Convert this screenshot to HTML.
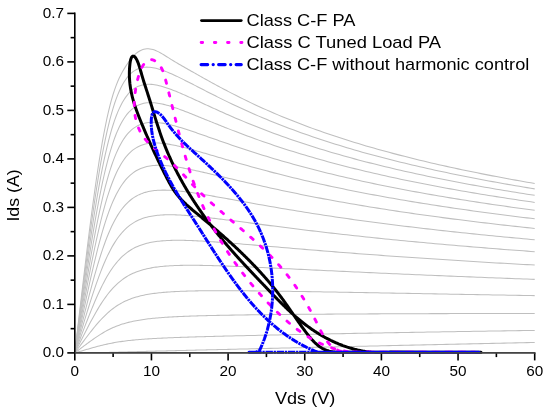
<!DOCTYPE html>
<html><head><meta charset="utf-8"><style>
html,body{margin:0;padding:0;background:#fff;}
body{width:550px;height:414px;overflow:hidden;}
svg{display:block;font-family:"Liberation Sans",Arial,sans-serif;}
</style></head><body>
<svg width="550" height="414" viewBox="0 0 550 414">
<rect width="550" height="414" fill="#fff"/>
<g fill="none" stroke="#bfbfbf" stroke-width="1.05">
<polyline points="74.80,352.90 75.57,346.35 76.33,339.81 77.10,333.26 77.87,326.72 78.63,320.19 79.40,313.66 80.17,307.14 80.93,300.63 81.70,294.14 82.47,287.68 83.23,281.23 84.00,274.82 84.76,268.44 85.53,262.09 86.30,255.79 87.06,249.54 87.83,243.34 88.60,237.20 89.36,231.12 90.13,225.10 91.66,213.30 93.20,201.83 94.73,190.72 96.26,180.01 97.80,169.73 99.33,159.90 100.86,150.56 102.39,141.70 103.93,133.36 105.46,125.53 106.99,118.22 108.53,111.45 110.06,105.20 111.59,99.48 113.12,94.27 114.66,89.56 116.19,85.32 117.72,81.50 119.26,78.06 120.79,74.93 122.32,72.06 123.86,69.39 125.39,66.87 126.92,64.50 128.45,62.25 129.99,60.15 131.52,58.20 133.05,56.42 134.59,54.83 136.12,53.44 137.65,52.24 139.19,51.24 140.72,50.43 142.25,49.78 143.78,49.30 145.32,48.98 146.85,48.81 148.38,48.79 149.92,48.91 151.45,49.16 152.98,49.55 154.52,50.05 156.05,50.65 157.58,51.35 159.12,52.13 160.65,52.97 162.18,53.87 163.71,54.80 165.25,55.75 166.78,56.71 168.31,57.67 169.85,58.64 171.38,59.59 172.91,60.53 174.44,61.46 175.98,62.38 177.51,63.29 179.04,64.18 180.58,65.07 182.11,65.95 183.64,66.83 185.18,67.70 186.71,68.57 188.24,69.44 189.77,70.31 191.31,71.18 192.84,72.04 194.37,72.91 195.91,73.77 197.44,74.64 198.97,75.50 200.51,76.37 202.04,77.23 203.57,78.09 205.11,78.94 206.64,79.80 208.17,80.65 209.70,81.50 211.24,82.34 212.77,83.19 214.30,84.02 215.84,84.86 217.37,85.69 218.90,86.52 220.44,87.34 221.97,88.16 223.50,88.98 225.03,89.79 226.57,90.59 228.10,91.39 231.93,93.38 235.76,95.33 239.60,97.25 243.43,99.15 247.26,101.01 251.09,102.85 254.93,104.65 258.76,106.42 262.59,108.17 266.43,109.88 270.26,111.57 274.09,113.23 277.92,114.86 281.75,116.46 285.59,118.03 289.42,119.59 293.25,121.11 297.08,122.61 300.92,124.08 304.75,125.53 308.58,126.96 312.42,128.37 316.25,129.75 320.08,131.11 323.91,132.45 327.75,133.76 331.58,135.06 335.41,136.34 339.24,137.59 343.07,138.83 346.91,140.05 350.74,141.25 354.57,142.44 358.41,143.60 362.24,144.75 366.07,145.88 369.90,147.00 373.74,148.10 377.57,149.18 381.40,150.25 385.23,151.30 389.06,152.34 392.90,153.37 396.73,154.38 400.56,155.38 404.40,156.36 408.23,157.33 412.06,158.29 415.89,159.24 419.73,160.17 423.56,161.09 427.39,162.00 431.22,162.90 435.06,163.78 438.89,164.66 442.72,165.52 446.55,166.38 450.38,167.22 454.22,168.05 458.05,168.88 461.88,169.69 465.72,170.49 469.55,171.29 473.38,172.07 477.21,172.85 481.05,173.61 484.88,174.37 488.71,175.12 492.54,175.86 496.38,176.59 500.21,177.32 504.04,178.03 507.87,178.74 511.71,179.44 515.54,180.13 519.37,180.82 523.20,181.50 527.03,182.17 530.87,182.83 534.70,183.49"/>
<polyline points="74.80,352.90 75.57,346.76 76.33,340.61 77.10,334.47 77.87,328.33 78.63,322.19 79.40,316.06 80.17,309.94 80.93,303.83 81.70,297.74 82.47,291.67 83.23,285.61 84.00,279.59 84.76,273.59 85.53,267.63 86.30,261.71 87.06,255.83 87.83,250.00 88.60,244.22 89.36,238.50 90.13,232.84 91.66,221.72 93.20,210.90 94.73,200.42 96.26,190.31 97.80,180.59 99.33,171.28 100.86,162.42 102.39,154.00 103.93,146.05 105.46,138.57 106.99,131.56 108.53,125.01 110.06,118.92 111.59,113.27 113.12,108.07 114.66,103.28 116.19,98.89 117.72,94.89 119.26,91.26 120.79,87.96 122.32,84.99 123.86,82.33 125.39,79.95 126.92,77.83 128.45,75.96 129.99,74.32 131.52,72.89 133.05,71.65 134.59,70.60 136.12,69.71 137.65,68.97 139.19,68.37 140.72,67.91 142.25,67.56 143.78,67.32 145.32,67.18 146.85,67.12 148.38,67.16 149.92,67.26 151.45,67.44 152.98,67.68 154.52,67.97 156.05,68.32 157.58,68.72 159.12,69.16 160.65,69.64 162.18,70.15 163.71,70.70 165.25,71.27 166.78,71.88 168.31,72.50 169.85,73.15 171.38,73.82 172.91,74.50 174.44,75.20 175.98,75.91 177.51,76.64 179.04,77.38 180.58,78.12 182.11,78.88 183.64,79.64 185.18,80.41 186.71,81.18 188.24,81.96 189.77,82.74 191.31,83.52 192.84,84.31 194.37,85.10 195.91,85.89 197.44,86.68 198.97,87.47 200.51,88.26 202.04,89.05 203.57,89.84 205.11,90.63 206.64,91.41 208.17,92.20 209.70,92.98 211.24,93.76 212.77,94.53 214.30,95.31 215.84,96.08 217.37,96.85 218.90,97.61 220.44,98.37 221.97,99.13 223.50,99.89 225.03,100.64 226.57,101.38 228.10,102.13 231.93,103.97 235.76,105.78 239.60,107.57 243.43,109.33 247.26,111.07 251.09,112.78 254.93,114.46 258.76,116.11 262.59,117.74 266.43,119.34 270.26,120.92 274.09,122.47 277.92,124.00 281.75,125.50 285.59,126.98 289.42,128.43 293.25,129.86 297.08,131.27 300.92,132.66 304.75,134.02 308.58,135.36 312.42,136.68 316.25,137.98 320.08,139.26 323.91,140.52 327.75,141.76 331.58,142.98 335.41,144.19 339.24,145.37 343.07,146.54 346.91,147.69 350.74,148.82 354.57,149.94 358.41,151.04 362.24,152.13 366.07,153.20 369.90,154.25 373.74,155.29 377.57,156.32 381.40,157.33 385.23,158.32 389.06,159.31 392.90,160.28 396.73,161.24 400.56,162.18 404.40,163.11 408.23,164.03 412.06,164.94 415.89,165.84 419.73,166.72 423.56,167.60 427.39,168.46 431.22,169.31 435.06,170.15 438.89,170.98 442.72,171.80 446.55,172.61 450.38,173.41 454.22,174.20 458.05,174.99 461.88,175.76 465.72,176.52 469.55,177.28 473.38,178.02 477.21,178.76 481.05,179.49 484.88,180.21 488.71,180.92 492.54,181.63 496.38,182.32 500.21,183.01 504.04,183.70 507.87,184.37 511.71,185.04 515.54,185.70 519.37,186.35 523.20,187.00 527.03,187.63 530.87,188.27 534.70,188.89"/>
<polyline points="74.80,352.90 75.57,347.21 76.33,341.53 77.10,335.84 77.87,330.16 78.63,324.48 79.40,318.80 80.17,313.13 80.93,307.48 81.70,301.84 82.47,296.21 83.23,290.60 84.00,285.02 84.76,279.47 85.53,273.94 86.30,268.45 87.06,263.00 87.83,257.59 88.60,252.23 89.36,246.92 90.13,241.66 91.66,231.33 93.20,221.27 94.73,211.51 96.26,202.08 97.80,193.01 99.33,184.32 100.86,176.02 102.39,168.13 103.93,160.66 105.46,153.62 106.99,147.01 108.53,140.82 110.06,135.06 111.59,129.70 113.12,124.75 114.66,120.18 116.19,115.99 117.72,112.15 119.26,108.64 120.79,105.46 122.32,102.58 123.86,99.98 125.39,97.65 126.92,95.57 128.45,93.71 129.99,92.08 131.52,90.64 133.05,89.38 134.59,88.30 136.12,87.37 137.65,86.58 139.19,85.93 140.72,85.41 142.25,84.99 143.78,84.68 145.32,84.46 146.85,84.33 148.38,84.28 149.92,84.30 151.45,84.39 152.98,84.54 154.52,84.75 156.05,85.01 157.58,85.31 159.12,85.65 160.65,86.04 162.18,86.46 163.71,86.91 165.25,87.39 166.78,87.89 168.31,88.42 169.85,88.98 171.38,89.55 172.91,90.14 174.44,90.74 175.98,91.36 177.51,91.99 179.04,92.64 180.58,93.29 182.11,93.95 183.64,94.62 185.18,95.30 186.71,95.98 188.24,96.67 189.77,97.37 191.31,98.06 192.84,98.76 194.37,99.47 195.91,100.17 197.44,100.88 198.97,101.59 200.51,102.30 202.04,103.00 203.57,103.71 205.11,104.42 206.64,105.13 208.17,105.83 209.70,106.54 211.24,107.24 212.77,107.94 214.30,108.64 215.84,109.34 217.37,110.03 218.90,110.73 220.44,111.42 221.97,112.10 223.50,112.79 225.03,113.47 226.57,114.15 228.10,114.82 231.93,116.50 235.76,118.15 239.60,119.78 243.43,121.39 247.26,122.98 251.09,124.54 254.93,126.08 258.76,127.60 262.59,129.09 266.43,130.56 270.26,132.01 274.09,133.44 277.92,134.85 281.75,136.23 285.59,137.59 289.42,138.93 293.25,140.25 297.08,141.55 300.92,142.83 304.75,144.09 308.58,145.33 312.42,146.56 316.25,147.76 320.08,148.95 323.91,150.11 327.75,151.27 331.58,152.40 335.41,153.52 339.24,154.62 343.07,155.70 346.91,156.77 350.74,157.83 354.57,158.87 358.41,159.89 362.24,160.90 366.07,161.90 369.90,162.88 373.74,163.85 377.57,164.80 381.40,165.75 385.23,166.68 389.06,167.59 392.90,168.50 396.73,169.39 400.56,170.28 404.40,171.15 408.23,172.01 412.06,172.86 415.89,173.69 419.73,174.52 423.56,175.34 427.39,176.15 431.22,176.94 435.06,177.73 438.89,178.51 442.72,179.28 446.55,180.04 450.38,180.79 454.22,181.53 458.05,182.26 461.88,182.99 465.72,183.70 469.55,184.41 473.38,185.11 477.21,185.80 481.05,186.49 484.88,187.17 488.71,187.84 492.54,188.50 496.38,189.15 500.21,189.80 504.04,190.44 507.87,191.07 511.71,191.70 515.54,192.32 519.37,192.94 523.20,193.54 527.03,194.15 530.87,194.74 534.70,195.33"/>
<polyline points="74.80,352.90 75.57,347.69 76.33,342.48 77.10,337.27 77.87,332.06 78.63,326.85 79.40,321.65 80.17,316.46 80.93,311.27 81.70,306.10 82.47,300.94 83.23,295.80 84.00,290.68 84.76,285.59 85.53,280.52 86.30,275.48 87.06,270.47 87.83,265.51 88.60,260.58 89.36,255.70 90.13,250.87 91.66,241.36 93.20,232.10 94.73,223.11 96.26,214.40 97.80,206.02 99.33,197.97 100.86,190.28 102.39,182.96 103.93,176.01 105.46,169.45 106.99,163.27 108.53,157.48 110.06,152.07 111.59,147.04 113.12,142.37 114.66,138.05 116.19,134.07 117.72,130.42 119.26,127.08 120.79,124.03 122.32,121.25 123.86,118.74 125.39,116.48 126.92,114.44 128.45,112.62 129.99,111.00 131.52,109.57 133.05,108.30 134.59,107.20 136.12,106.24 137.65,105.42 139.19,104.72 140.72,104.14 142.25,103.66 143.78,103.29 145.32,103.00 146.85,102.79 148.38,102.66 149.92,102.60 151.45,102.61 152.98,102.67 154.52,102.79 156.05,102.95 157.58,103.16 159.12,103.41 160.65,103.70 162.18,104.02 163.71,104.38 165.25,104.76 166.78,105.17 168.31,105.60 169.85,106.05 171.38,106.53 172.91,107.02 174.44,107.53 175.98,108.05 177.51,108.58 179.04,109.13 180.58,109.69 182.11,110.26 183.64,110.83 185.18,111.42 186.71,112.01 188.24,112.61 189.77,113.21 191.31,113.81 192.84,114.42 194.37,115.04 195.91,115.65 197.44,116.27 198.97,116.89 200.51,117.52 202.04,118.14 203.57,118.76 205.11,119.39 206.64,120.01 208.17,120.63 209.70,121.26 211.24,121.88 212.77,122.50 214.30,123.12 215.84,123.74 217.37,124.36 218.90,124.98 220.44,125.59 221.97,126.20 223.50,126.81 225.03,127.42 226.57,128.03 228.10,128.63 231.93,130.13 235.76,131.61 239.60,133.08 243.43,134.52 247.26,135.95 251.09,137.36 254.93,138.75 258.76,140.12 262.59,141.47 266.43,142.80 270.26,144.12 274.09,145.41 277.92,146.69 281.75,147.94 285.59,149.18 289.42,150.40 293.25,151.60 297.08,152.79 300.92,153.95 304.75,155.10 308.58,156.24 312.42,157.35 316.25,158.45 320.08,159.54 323.91,160.61 327.75,161.66 331.58,162.70 335.41,163.72 339.24,164.73 343.07,165.73 346.91,166.71 350.74,167.68 354.57,168.63 358.41,169.58 362.24,170.50 366.07,171.42 369.90,172.33 373.74,173.22 377.57,174.10 381.40,174.97 385.23,175.83 389.06,176.67 392.90,177.51 396.73,178.33 400.56,179.15 404.40,179.95 408.23,180.75 412.06,181.53 415.89,182.31 419.73,183.07 423.56,183.83 427.39,184.58 431.22,185.31 435.06,186.04 438.89,186.76 442.72,187.48 446.55,188.18 450.38,188.88 454.22,189.56 458.05,190.24 461.88,190.92 465.72,191.58 469.55,192.24 473.38,192.89 477.21,193.53 481.05,194.17 484.88,194.80 488.71,195.42 492.54,196.03 496.38,196.64 500.21,197.25 504.04,197.84 507.87,198.43 511.71,199.02 515.54,199.59 519.37,200.17 523.20,200.73 527.03,201.29 530.87,201.85 534.70,202.40"/>
<polyline points="74.80,352.90 75.57,348.19 76.33,343.48 77.10,338.76 77.87,334.05 78.63,329.35 79.40,324.64 80.17,319.95 80.93,315.26 81.70,310.58 82.47,305.91 83.23,301.26 84.00,296.62 84.76,292.01 85.53,287.42 86.30,282.86 87.06,278.32 87.83,273.82 88.60,269.35 89.36,264.93 90.13,260.54 91.66,251.92 93.20,243.50 94.73,235.31 96.26,227.38 97.80,219.73 99.33,212.38 100.86,205.34 102.39,198.63 103.93,192.25 105.46,186.21 106.99,180.52 108.53,175.16 110.06,170.15 111.59,165.47 113.12,161.12 114.66,157.09 116.19,153.36 117.72,149.92 119.26,146.77 120.79,143.88 122.32,141.24 123.86,138.84 125.39,136.67 126.92,134.70 128.45,132.93 129.99,131.35 131.52,129.93 133.05,128.67 134.59,127.56 136.12,126.58 137.65,125.73 139.19,125.00 140.72,124.37 142.25,123.84 143.78,123.41 145.32,123.05 146.85,122.78 148.38,122.57 149.92,122.44 151.45,122.36 152.98,122.34 154.52,122.36 156.05,122.44 157.58,122.56 159.12,122.71 160.65,122.91 162.18,123.13 163.71,123.39 165.25,123.67 166.78,123.98 168.31,124.32 169.85,124.67 171.38,125.05 172.91,125.44 174.44,125.85 175.98,126.27 177.51,126.70 179.04,127.15 180.58,127.61 182.11,128.08 183.64,128.56 185.18,129.05 186.71,129.54 188.24,130.04 189.77,130.55 191.31,131.06 192.84,131.58 194.37,132.10 195.91,132.62 197.44,133.15 198.97,133.68 200.51,134.21 202.04,134.74 203.57,135.28 205.11,135.81 206.64,136.35 208.17,136.89 209.70,137.42 211.24,137.96 212.77,138.50 214.30,139.04 215.84,139.57 217.37,140.11 218.90,140.65 220.44,141.18 221.97,141.71 223.50,142.24 225.03,142.77 226.57,143.30 228.10,143.83 231.93,145.14 235.76,146.44 239.60,147.73 243.43,149.00 247.26,150.26 251.09,151.50 254.93,152.73 258.76,153.94 262.59,155.14 266.43,156.32 270.26,157.48 274.09,158.64 277.92,159.77 281.75,160.89 285.59,161.99 289.42,163.08 293.25,164.16 297.08,165.22 300.92,166.26 304.75,167.29 308.58,168.31 312.42,169.31 316.25,170.30 320.08,171.27 323.91,172.23 327.75,173.18 331.58,174.11 335.41,175.04 339.24,175.95 343.07,176.85 346.91,177.73 350.74,178.61 354.57,179.47 358.41,180.32 362.24,181.16 366.07,181.99 369.90,182.81 373.74,183.62 377.57,184.42 381.40,185.20 385.23,185.98 389.06,186.75 392.90,187.51 396.73,188.26 400.56,189.00 404.40,189.73 408.23,190.46 412.06,191.17 415.89,191.88 419.73,192.57 423.56,193.26 427.39,193.94 431.22,194.62 435.06,195.28 438.89,195.94 442.72,196.59 446.55,197.23 450.38,197.87 454.22,198.50 458.05,199.12 461.88,199.73 465.72,200.34 469.55,200.94 473.38,201.54 477.21,202.13 481.05,202.71 484.88,203.29 488.71,203.86 492.54,204.42 496.38,204.98 500.21,205.53 504.04,206.08 507.87,206.62 511.71,207.15 515.54,207.69 519.37,208.21 523.20,208.73 527.03,209.24 530.87,209.75 534.70,210.26"/>
<polyline points="74.80,352.90 75.57,348.69 76.33,344.49 77.10,340.28 77.87,336.08 78.63,331.88 79.40,327.68 80.17,323.49 80.93,319.30 81.70,315.12 82.47,310.96 83.23,306.80 84.00,302.66 84.76,298.54 85.53,294.44 86.30,290.36 87.06,286.30 87.83,282.27 88.60,278.28 89.36,274.32 90.13,270.39 91.66,262.66 93.20,255.11 94.73,247.76 96.26,240.63 97.80,233.74 99.33,227.11 100.86,220.75 102.39,214.68 103.93,208.89 105.46,203.41 106.99,198.22 108.53,193.34 110.06,188.75 111.59,184.46 113.12,180.46 114.66,176.74 116.19,173.29 117.72,170.10 119.26,167.16 120.79,164.46 122.32,161.98 123.86,159.72 125.39,157.65 126.92,155.78 128.45,154.08 129.99,152.55 131.52,151.17 133.05,149.93 134.59,148.83 136.12,147.85 137.65,146.99 139.19,146.23 140.72,145.57 142.25,145.00 143.78,144.52 145.32,144.11 146.85,143.78 148.38,143.51 149.92,143.30 151.45,143.15 152.98,143.05 154.52,143.00 156.05,142.99 157.58,143.02 159.12,143.09 160.65,143.19 162.18,143.32 163.71,143.49 165.25,143.68 166.78,143.89 168.31,144.13 169.85,144.39 171.38,144.66 172.91,144.96 174.44,145.27 175.98,145.59 177.51,145.93 179.04,146.28 180.58,146.64 182.11,147.02 183.64,147.40 185.18,147.79 186.71,148.18 188.24,148.59 189.77,149.00 191.31,149.42 192.84,149.84 194.37,150.26 195.91,150.69 197.44,151.13 198.97,151.57 200.51,152.01 202.04,152.45 203.57,152.89 205.11,153.34 206.64,153.79 208.17,154.24 209.70,154.69 211.24,155.14 212.77,155.59 214.30,156.05 215.84,156.50 217.37,156.95 218.90,157.40 220.44,157.86 221.97,158.31 223.50,158.76 225.03,159.21 226.57,159.66 228.10,160.11 231.93,161.23 235.76,162.34 239.60,163.44 243.43,164.53 247.26,165.61 251.09,166.68 254.93,167.74 258.76,168.79 262.59,169.83 266.43,170.85 270.26,171.87 274.09,172.87 277.92,173.85 281.75,174.83 285.59,175.79 289.42,176.75 293.25,177.69 297.08,178.61 300.92,179.53 304.75,180.43 308.58,181.33 312.42,182.21 316.25,183.08 320.08,183.93 323.91,184.78 327.75,185.62 331.58,186.44 335.41,187.26 339.24,188.06 343.07,188.86 346.91,189.64 350.74,190.42 354.57,191.18 358.41,191.94 362.24,192.69 366.07,193.42 369.90,194.15 373.74,194.87 377.57,195.58 381.40,196.28 385.23,196.98 389.06,197.66 392.90,198.34 396.73,199.01 400.56,199.67 404.40,200.32 408.23,200.97 412.06,201.61 415.89,202.24 419.73,202.87 423.56,203.48 427.39,204.09 431.22,204.70 435.06,205.29 438.89,205.88 442.72,206.47 446.55,207.05 450.38,207.62 454.22,208.18 458.05,208.74 461.88,209.29 465.72,209.84 469.55,210.38 473.38,210.92 477.21,211.45 481.05,211.97 484.88,212.49 488.71,213.01 492.54,213.52 496.38,214.02 500.21,214.52 504.04,215.01 507.87,215.50 511.71,215.99 515.54,216.47 519.37,216.94 523.20,217.41 527.03,217.88 530.87,218.34 534.70,218.80"/>
<polyline points="74.80,352.90 75.57,349.23 76.33,345.55 77.10,341.88 77.87,338.20 78.63,334.53 79.40,330.86 80.17,327.20 80.93,323.54 81.70,319.89 82.47,316.24 83.23,312.61 84.00,308.99 84.76,305.38 85.53,301.79 86.30,298.22 87.06,294.67 87.83,291.14 88.60,287.64 89.36,284.17 90.13,280.72 91.66,273.94 93.20,267.30 94.73,260.84 96.26,254.56 97.80,248.49 99.33,242.63 100.86,237.01 102.39,231.62 103.93,226.49 105.46,221.61 106.99,216.98 108.53,212.61 110.06,208.50 111.59,204.65 113.12,201.04 114.66,197.67 116.19,194.54 117.72,191.64 119.26,188.95 120.79,186.47 122.32,184.19 123.86,182.09 125.39,180.17 126.92,178.42 128.45,176.82 129.99,175.36 131.52,174.05 133.05,172.86 134.59,171.79 136.12,170.82 137.65,169.97 139.19,169.20 140.72,168.53 142.25,167.93 143.78,167.41 145.32,166.96 146.85,166.58 148.38,166.26 149.92,165.99 151.45,165.77 152.98,165.60 154.52,165.47 156.05,165.39 157.58,165.34 159.12,165.32 160.65,165.34 162.18,165.39 163.71,165.46 165.25,165.56 166.78,165.68 168.31,165.83 169.85,165.99 171.38,166.17 172.91,166.37 174.44,166.58 175.98,166.81 177.51,167.05 179.04,167.30 180.58,167.57 182.11,167.84 183.64,168.12 185.18,168.41 186.71,168.71 188.24,169.02 189.77,169.33 191.31,169.65 192.84,169.98 194.37,170.31 195.91,170.64 197.44,170.98 198.97,171.32 200.51,171.67 202.04,172.02 203.57,172.37 205.11,172.73 206.64,173.08 208.17,173.44 209.70,173.80 211.24,174.16 212.77,174.53 214.30,174.89 215.84,175.25 217.37,175.62 218.90,175.99 220.44,176.35 221.97,176.72 223.50,177.08 225.03,177.45 226.57,177.82 228.10,178.18 231.93,179.10 235.76,180.01 239.60,180.92 243.43,181.82 247.26,182.71 251.09,183.60 254.93,184.48 258.76,185.35 262.59,186.22 266.43,187.08 270.26,187.93 274.09,188.76 277.92,189.60 281.75,190.42 285.59,191.23 289.42,192.03 293.25,192.83 297.08,193.61 300.92,194.39 304.75,195.16 308.58,195.91 312.42,196.66 316.25,197.40 320.08,198.14 323.91,198.86 327.75,199.58 331.58,200.28 335.41,200.98 339.24,201.67 343.07,202.35 346.91,203.03 350.74,203.69 354.57,204.35 358.41,205.00 362.24,205.64 366.07,206.28 369.90,206.91 373.74,207.53 377.57,208.14 381.40,208.75 385.23,209.35 389.06,209.95 392.90,210.53 396.73,211.11 400.56,211.69 404.40,212.26 408.23,212.82 412.06,213.37 415.89,213.92 419.73,214.47 423.56,215.00 427.39,215.54 431.22,216.06 435.06,216.58 438.89,217.10 442.72,217.61 446.55,218.11 450.38,218.61 454.22,219.11 458.05,219.60 461.88,220.08 465.72,220.56 469.55,221.04 473.38,221.51 477.21,221.97 481.05,222.43 484.88,222.89 488.71,223.34 492.54,223.79 496.38,224.23 500.21,224.67 504.04,225.11 507.87,225.54 511.71,225.97 515.54,226.39 519.37,226.81 523.20,227.22 527.03,227.63 530.87,228.04 534.70,228.44"/>
<polyline points="74.80,352.90 75.57,349.79 76.33,346.69 77.10,343.58 77.87,340.47 78.63,337.37 79.40,334.27 80.17,331.17 80.93,328.07 81.70,324.98 82.47,321.90 83.23,318.82 84.00,315.76 84.76,312.70 85.53,309.66 86.30,306.64 87.06,303.63 87.83,300.64 88.60,297.67 89.36,294.72 90.13,291.80 91.66,286.04 93.20,280.40 94.73,274.90 96.26,269.54 97.80,264.36 99.33,259.35 100.86,254.53 102.39,249.91 103.93,245.49 105.46,241.28 106.99,237.29 108.53,233.50 110.06,229.93 111.59,226.57 113.12,223.42 114.66,220.47 116.19,217.71 117.72,215.15 119.26,212.76 120.79,210.56 122.32,208.51 123.86,206.63 125.39,204.89 126.92,203.30 128.45,201.83 129.99,200.49 131.52,199.27 133.05,198.16 134.59,197.15 136.12,196.23 137.65,195.40 139.19,194.65 140.72,193.98 142.25,193.38 143.78,192.85 145.32,192.37 146.85,191.96 148.38,191.59 149.92,191.28 151.45,191.01 152.98,190.78 154.52,190.59 156.05,190.44 157.58,190.32 159.12,190.23 160.65,190.17 162.18,190.13 163.71,190.12 165.25,190.13 166.78,190.17 168.31,190.22 169.85,190.29 171.38,190.38 172.91,190.48 174.44,190.60 175.98,190.73 177.51,190.88 179.04,191.03 180.58,191.20 182.11,191.37 183.64,191.56 185.18,191.75 186.71,191.95 188.24,192.16 189.77,192.37 191.31,192.59 192.84,192.82 194.37,193.05 195.91,193.29 197.44,193.53 198.97,193.77 200.51,194.02 202.04,194.27 203.57,194.53 205.11,194.79 206.64,195.05 208.17,195.31 209.70,195.57 211.24,195.84 212.77,196.11 214.30,196.38 215.84,196.65 217.37,196.93 218.90,197.20 220.44,197.48 221.97,197.75 223.50,198.03 225.03,198.31 226.57,198.59 228.10,198.86 231.93,199.56 235.76,200.26 239.60,200.96 243.43,201.65 247.26,202.35 251.09,203.04 254.93,203.73 258.76,204.41 262.59,205.09 266.43,205.76 270.26,206.43 274.09,207.09 277.92,207.75 281.75,208.40 285.59,209.05 289.42,209.69 293.25,210.33 297.08,210.95 300.92,211.58 304.75,212.19 308.58,212.80 312.42,213.41 316.25,214.00 320.08,214.60 323.91,215.18 327.75,215.76 331.58,216.33 335.41,216.90 339.24,217.46 343.07,218.02 346.91,218.57 350.74,219.11 354.57,219.65 358.41,220.18 362.24,220.71 366.07,221.23 369.90,221.75 373.74,222.26 377.57,222.76 381.40,223.27 385.23,223.76 389.06,224.25 392.90,224.74 396.73,225.22 400.56,225.69 404.40,226.16 408.23,226.63 412.06,227.09 415.89,227.55 419.73,228.00 423.56,228.45 427.39,228.89 431.22,229.33 435.06,229.76 438.89,230.19 442.72,230.62 446.55,231.04 450.38,231.46 454.22,231.87 458.05,232.28 461.88,232.69 465.72,233.09 469.55,233.49 473.38,233.88 477.21,234.28 481.05,234.66 484.88,235.05 488.71,235.43 492.54,235.81 496.38,236.18 500.21,236.55 504.04,236.92 507.87,237.28 511.71,237.64 515.54,238.00 519.37,238.35 523.20,238.70 527.03,239.05 530.87,239.40 534.70,239.74"/>
<polyline points="74.80,352.90 75.57,350.34 76.33,347.77 77.10,345.21 77.87,342.64 78.63,340.08 79.40,337.51 80.17,334.95 80.93,332.40 81.70,329.84 82.47,327.30 83.23,324.76 84.00,322.22 84.76,319.70 85.53,317.18 86.30,314.68 87.06,312.19 87.83,309.72 88.60,307.26 89.36,304.82 90.13,302.40 91.66,297.62 93.20,292.93 94.73,288.36 96.26,283.91 97.80,279.59 99.33,275.41 100.86,271.38 102.39,267.51 103.93,263.80 105.46,260.26 106.99,256.89 108.53,253.70 110.06,250.67 111.59,247.82 113.12,245.13 114.66,242.61 116.19,240.24 117.72,238.04 119.26,235.98 120.79,234.06 122.32,232.28 123.86,230.63 125.39,229.11 126.92,227.69 128.45,226.39 129.99,225.19 131.52,224.09 133.05,223.08 134.59,222.16 136.12,221.31 137.65,220.54 139.19,219.83 140.72,219.19 142.25,218.61 143.78,218.09 145.32,217.61 146.85,217.19 148.38,216.81 149.92,216.47 151.45,216.17 152.98,215.91 154.52,215.67 156.05,215.47 157.58,215.30 159.12,215.16 160.65,215.04 162.18,214.94 163.71,214.87 165.25,214.81 166.78,214.77 168.31,214.75 169.85,214.75 171.38,214.76 172.91,214.79 174.44,214.83 175.98,214.88 177.51,214.94 179.04,215.01 180.58,215.09 182.11,215.18 183.64,215.28 185.18,215.39 186.71,215.50 188.24,215.62 189.77,215.75 191.31,215.88 192.84,216.02 194.37,216.17 195.91,216.32 197.44,216.47 198.97,216.63 200.51,216.79 202.04,216.95 203.57,217.12 205.11,217.29 206.64,217.46 208.17,217.64 209.70,217.82 211.24,218.00 212.77,218.18 214.30,218.37 215.84,218.56 217.37,218.75 218.90,218.94 220.44,219.13 221.97,219.32 223.50,219.51 225.03,219.71 226.57,219.90 228.10,220.10 231.93,220.60 235.76,221.10 239.60,221.60 243.43,222.10 247.26,222.60 251.09,223.11 254.93,223.61 258.76,224.11 262.59,224.61 266.43,225.11 270.26,225.61 274.09,226.10 277.92,226.59 281.75,227.08 285.59,227.57 289.42,228.05 293.25,228.53 297.08,229.00 300.92,229.48 304.75,229.94 308.58,230.41 312.42,230.87 316.25,231.33 320.08,231.78 323.91,232.23 327.75,232.67 331.58,233.11 335.41,233.55 339.24,233.99 343.07,234.42 346.91,234.84 350.74,235.27 354.57,235.68 358.41,236.10 362.24,236.51 366.07,236.92 369.90,237.32 373.74,237.72 377.57,238.12 381.40,238.51 385.23,238.90 389.06,239.28 392.90,239.67 396.73,240.05 400.56,240.42 404.40,240.79 408.23,241.16 412.06,241.53 415.89,241.89 419.73,242.25 423.56,242.60 427.39,242.96 431.22,243.31 435.06,243.65 438.89,244.00 442.72,244.34 446.55,244.67 450.38,245.01 454.22,245.34 458.05,245.67 461.88,246.00 465.72,246.32 469.55,246.64 473.38,246.96 477.21,247.27 481.05,247.58 484.88,247.89 488.71,248.20 492.54,248.51 496.38,248.81 500.21,249.11 504.04,249.40 507.87,249.70 511.71,249.99 515.54,250.28 519.37,250.57 523.20,250.85 527.03,251.14 530.87,251.42 534.70,251.70"/>
<polyline points="74.80,352.90 75.57,350.87 76.33,348.85 77.10,346.82 77.87,344.79 78.63,342.77 79.40,340.74 80.17,338.72 80.93,336.70 81.70,334.68 82.47,332.67 83.23,330.66 84.00,328.65 84.76,326.66 85.53,324.67 86.30,322.68 87.06,320.71 87.83,318.75 88.60,316.80 89.36,314.87 90.13,312.95 91.66,309.16 93.20,305.44 94.73,301.80 96.26,298.25 97.80,294.81 99.33,291.47 100.86,288.25 102.39,285.14 103.93,282.17 105.46,279.32 106.99,276.60 108.53,274.02 110.06,271.57 111.59,269.24 113.12,267.05 114.66,264.99 116.19,263.05 117.72,261.24 119.26,259.54 120.79,257.95 122.32,256.46 123.86,255.08 125.39,253.80 126.92,252.60 128.45,251.50 129.99,250.47 131.52,249.52 133.05,248.65 134.59,247.84 136.12,247.09 137.65,246.40 139.19,245.77 140.72,245.19 142.25,244.66 143.78,244.17 145.32,243.73 146.85,243.32 148.38,242.95 149.92,242.61 151.45,242.30 152.98,242.03 154.52,241.78 156.05,241.55 157.58,241.35 159.12,241.17 160.65,241.01 162.18,240.88 163.71,240.75 165.25,240.65 166.78,240.56 168.31,240.49 169.85,240.42 171.38,240.38 172.91,240.34 174.44,240.31 175.98,240.30 177.51,240.29 179.04,240.29 180.58,240.31 182.11,240.32 183.64,240.35 185.18,240.39 186.71,240.43 188.24,240.47 189.77,240.52 191.31,240.58 192.84,240.64 194.37,240.71 195.91,240.78 197.44,240.86 198.97,240.93 200.51,241.02 202.04,241.10 203.57,241.19 205.11,241.29 206.64,241.38 208.17,241.48 209.70,241.58 211.24,241.68 212.77,241.79 214.30,241.89 215.84,242.00 217.37,242.11 218.90,242.22 220.44,242.34 221.97,242.45 223.50,242.57 225.03,242.69 226.57,242.81 228.10,242.93 231.93,243.23 235.76,243.54 239.60,243.85 243.43,244.17 247.26,244.49 251.09,244.82 254.93,245.14 258.76,245.47 262.59,245.79 266.43,246.12 270.26,246.45 274.09,246.78 277.92,247.10 281.75,247.43 285.59,247.76 289.42,248.08 293.25,248.41 297.08,248.73 300.92,249.05 304.75,249.37 308.58,249.69 312.42,250.00 316.25,250.32 320.08,250.63 323.91,250.94 327.75,251.25 331.58,251.56 335.41,251.86 339.24,252.17 343.07,252.47 346.91,252.77 350.74,253.07 354.57,253.36 358.41,253.65 362.24,253.94 366.07,254.23 369.90,254.52 373.74,254.81 377.57,255.09 381.40,255.37 385.23,255.65 389.06,255.93 392.90,256.20 396.73,256.47 400.56,256.74 404.40,257.01 408.23,257.28 412.06,257.54 415.89,257.81 419.73,258.07 423.56,258.33 427.39,258.58 431.22,258.84 435.06,259.09 438.89,259.34 442.72,259.59 446.55,259.84 450.38,260.09 454.22,260.33 458.05,260.57 461.88,260.81 465.72,261.05 469.55,261.29 473.38,261.52 477.21,261.76 481.05,261.99 484.88,262.22 488.71,262.45 492.54,262.67 496.38,262.90 500.21,263.12 504.04,263.34 507.87,263.56 511.71,263.78 515.54,264.00 519.37,264.21 523.20,264.43 527.03,264.64 530.87,264.85 534.70,265.06"/>
<polyline points="74.80,352.90 75.57,351.38 76.33,349.86 77.10,348.34 77.87,346.81 78.63,345.29 79.40,343.77 80.17,342.25 80.93,340.73 81.70,339.21 82.47,337.70 83.23,336.19 84.00,334.68 84.76,333.18 85.53,331.68 86.30,330.19 87.06,328.71 87.83,327.23 88.60,325.76 89.36,324.30 90.13,322.85 91.66,319.99 93.20,317.18 94.73,314.43 96.26,311.75 97.80,309.14 99.33,306.60 100.86,304.15 102.39,301.79 103.93,299.52 105.46,297.34 106.99,295.26 108.53,293.27 110.06,291.39 111.59,289.60 113.12,287.90 114.66,286.30 116.19,284.79 117.72,283.37 119.26,282.04 120.79,280.79 122.32,279.61 123.86,278.52 125.39,277.49 126.92,276.54 128.45,275.65 129.99,274.82 131.52,274.04 133.05,273.32 134.59,272.66 136.12,272.04 137.65,271.46 139.19,270.93 140.72,270.43 142.25,269.97 143.78,269.55 145.32,269.16 146.85,268.79 148.38,268.46 149.92,268.15 151.45,267.86 152.98,267.60 154.52,267.35 156.05,267.13 157.58,266.93 159.12,266.74 160.65,266.57 162.18,266.41 163.71,266.27 165.25,266.14 166.78,266.02 168.31,265.91 169.85,265.82 171.38,265.73 172.91,265.66 174.44,265.59 175.98,265.53 177.51,265.48 179.04,265.43 180.58,265.39 182.11,265.36 183.64,265.34 185.18,265.32 186.71,265.30 188.24,265.29 189.77,265.29 191.31,265.29 192.84,265.29 194.37,265.30 195.91,265.31 197.44,265.33 198.97,265.34 200.51,265.36 202.04,265.39 203.57,265.42 205.11,265.45 206.64,265.48 208.17,265.51 209.70,265.55 211.24,265.59 212.77,265.63 214.30,265.67 215.84,265.71 217.37,265.76 218.90,265.81 220.44,265.86 221.97,265.91 223.50,265.96 225.03,266.01 226.57,266.07 228.10,266.12 231.93,266.27 235.76,266.42 239.60,266.57 243.43,266.73 247.26,266.89 251.09,267.06 254.93,267.23 258.76,267.40 262.59,267.57 266.43,267.75 270.26,267.93 274.09,268.11 277.92,268.29 281.75,268.47 285.59,268.65 289.42,268.83 293.25,269.02 297.08,269.20 300.92,269.38 304.75,269.57 308.58,269.75 312.42,269.93 316.25,270.12 320.08,270.30 323.91,270.48 327.75,270.66 331.58,270.84 335.41,271.03 339.24,271.21 343.07,271.39 346.91,271.57 350.74,271.75 354.57,271.92 358.41,272.10 362.24,272.28 366.07,272.45 369.90,272.63 373.74,272.80 377.57,272.98 381.40,273.15 385.23,273.32 389.06,273.49 392.90,273.66 396.73,273.83 400.56,274.00 404.40,274.17 408.23,274.34 412.06,274.50 415.89,274.67 419.73,274.83 423.56,275.00 427.39,275.16 431.22,275.32 435.06,275.48 438.89,275.64 442.72,275.80 446.55,275.96 450.38,276.12 454.22,276.28 458.05,276.43 461.88,276.59 465.72,276.74 469.55,276.89 473.38,277.05 477.21,277.20 481.05,277.35 484.88,277.50 488.71,277.65 492.54,277.79 496.38,277.94 500.21,278.09 504.04,278.23 507.87,278.38 511.71,278.52 515.54,278.67 519.37,278.81 523.20,278.95 527.03,279.09 530.87,279.23 534.70,279.37"/>
<polyline points="74.80,352.90 75.57,351.87 76.33,350.84 77.10,349.81 77.87,348.78 78.63,347.75 79.40,346.72 80.17,345.69 80.93,344.66 81.70,343.63 82.47,342.61 83.23,341.58 84.00,340.56 84.76,339.54 85.53,338.52 86.30,337.51 87.06,336.50 87.83,335.50 88.60,334.50 89.36,333.51 90.13,332.52 91.66,330.58 93.20,328.66 94.73,326.78 96.26,324.95 97.80,323.16 99.33,321.43 100.86,319.74 102.39,318.12 103.93,316.55 105.46,315.05 106.99,313.61 108.53,312.23 110.06,310.92 111.59,309.67 113.12,308.49 114.66,307.36 116.19,306.30 117.72,305.30 119.26,304.35 120.79,303.46 122.32,302.63 123.86,301.84 125.39,301.10 126.92,300.41 128.45,299.76 129.99,299.15 131.52,298.59 133.05,298.05 134.59,297.55 136.12,297.09 137.65,296.65 139.19,296.24 140.72,295.86 142.25,295.51 143.78,295.17 145.32,294.86 146.85,294.57 148.38,294.30 149.92,294.04 151.45,293.80 152.98,293.58 154.52,293.37 156.05,293.18 157.58,293.00 159.12,292.83 160.65,292.67 162.18,292.52 163.71,292.38 165.25,292.25 166.78,292.12 168.31,292.01 169.85,291.90 171.38,291.80 172.91,291.71 174.44,291.62 175.98,291.54 177.51,291.47 179.04,291.40 180.58,291.33 182.11,291.27 183.64,291.21 185.18,291.16 186.71,291.11 188.24,291.07 189.77,291.03 191.31,290.99 192.84,290.95 194.37,290.92 195.91,290.89 197.44,290.86 198.97,290.84 200.51,290.81 202.04,290.79 203.57,290.78 205.11,290.76 206.64,290.75 208.17,290.73 209.70,290.72 211.24,290.71 212.77,290.70 214.30,290.70 215.84,290.69 217.37,290.69 218.90,290.69 220.44,290.69 221.97,290.69 223.50,290.69 225.03,290.69 226.57,290.69 228.10,290.70 231.93,290.71 235.76,290.73 239.60,290.76 243.43,290.79 247.26,290.82 251.09,290.85 254.93,290.89 258.76,290.94 262.59,290.98 266.43,291.03 270.26,291.07 274.09,291.13 277.92,291.18 281.75,291.23 285.59,291.29 289.42,291.34 293.25,291.40 297.08,291.46 300.92,291.52 304.75,291.58 308.58,291.64 312.42,291.71 316.25,291.77 320.08,291.83 323.91,291.90 327.75,291.96 331.58,292.03 335.41,292.09 339.24,292.16 343.07,292.23 346.91,292.29 350.74,292.36 354.57,292.43 358.41,292.50 362.24,292.57 366.07,292.63 369.90,292.70 373.74,292.77 377.57,292.84 381.40,292.91 385.23,292.98 389.06,293.05 392.90,293.12 396.73,293.18 400.56,293.25 404.40,293.32 408.23,293.39 412.06,293.46 415.89,293.53 419.73,293.60 423.56,293.67 427.39,293.74 431.22,293.81 435.06,293.88 438.89,293.94 442.72,294.01 446.55,294.08 450.38,294.15 454.22,294.22 458.05,294.29 461.88,294.36 465.72,294.42 469.55,294.49 473.38,294.56 477.21,294.63 481.05,294.69 484.88,294.76 488.71,294.83 492.54,294.90 496.38,294.96 500.21,295.03 504.04,295.10 507.87,295.16 511.71,295.23 515.54,295.30 519.37,295.36 523.20,295.43 527.03,295.50 530.87,295.56 534.70,295.63"/>
<polyline points="74.80,352.90 75.57,352.32 76.33,351.74 77.10,351.17 77.87,350.59 78.63,350.01 79.40,349.43 80.17,348.85 80.93,348.27 81.70,347.69 82.47,347.11 83.23,346.53 84.00,345.95 84.76,345.38 85.53,344.80 86.30,344.23 87.06,343.66 87.83,343.09 88.60,342.53 89.36,341.97 90.13,341.41 91.66,340.30 93.20,339.21 94.73,338.15 96.26,337.10 97.80,336.08 99.33,335.08 100.86,334.12 102.39,333.18 103.93,332.28 105.46,331.41 106.99,330.58 108.53,329.78 110.06,329.02 111.59,328.29 113.12,327.59 114.66,326.93 116.19,326.30 117.72,325.71 119.26,325.15 120.79,324.61 122.32,324.11 123.86,323.64 125.39,323.19 126.92,322.77 128.45,322.37 129.99,321.99 131.52,321.64 133.05,321.30 134.59,320.99 136.12,320.69 137.65,320.41 139.19,320.15 140.72,319.90 142.25,319.67 143.78,319.45 145.32,319.24 146.85,319.04 148.38,318.85 149.92,318.67 151.45,318.51 152.98,318.35 154.52,318.20 156.05,318.05 157.58,317.92 159.12,317.79 160.65,317.67 162.18,317.55 163.71,317.44 165.25,317.33 166.78,317.23 168.31,317.13 169.85,317.04 171.38,316.95 172.91,316.87 174.44,316.78 175.98,316.71 177.51,316.63 179.04,316.56 180.58,316.49 182.11,316.42 183.64,316.36 185.18,316.30 186.71,316.24 188.24,316.18 189.77,316.13 191.31,316.08 192.84,316.02 194.37,315.97 195.91,315.93 197.44,315.88 198.97,315.83 200.51,315.79 202.04,315.75 203.57,315.71 205.11,315.67 206.64,315.63 208.17,315.59 209.70,315.56 211.24,315.52 212.77,315.48 214.30,315.45 215.84,315.42 217.37,315.39 218.90,315.36 220.44,315.32 221.97,315.29 223.50,315.27 225.03,315.24 226.57,315.21 228.10,315.18 231.93,315.12 235.76,315.06 239.60,315.00 243.43,314.94 247.26,314.89 251.09,314.84 254.93,314.79 258.76,314.74 262.59,314.70 266.43,314.65 270.26,314.61 274.09,314.57 277.92,314.53 281.75,314.49 285.59,314.46 289.42,314.42 293.25,314.39 297.08,314.36 300.92,314.33 304.75,314.30 308.58,314.27 312.42,314.24 316.25,314.21 320.08,314.18 323.91,314.16 327.75,314.13 331.58,314.10 335.41,314.08 339.24,314.06 343.07,314.03 346.91,314.01 350.74,313.99 354.57,313.97 358.41,313.95 362.24,313.93 366.07,313.91 369.90,313.89 373.74,313.87 377.57,313.85 381.40,313.83 385.23,313.82 389.06,313.80 392.90,313.78 396.73,313.77 400.56,313.75 404.40,313.74 408.23,313.72 412.06,313.71 415.89,313.70 419.73,313.68 423.56,313.67 427.39,313.66 431.22,313.64 435.06,313.63 438.89,313.62 442.72,313.61 446.55,313.60 450.38,313.59 454.22,313.58 458.05,313.57 461.88,313.56 465.72,313.55 469.55,313.54 473.38,313.53 477.21,313.52 481.05,313.51 484.88,313.51 488.71,313.50 492.54,313.49 496.38,313.48 500.21,313.48 504.04,313.47 507.87,313.46 511.71,313.46 515.54,313.45 519.37,313.45 523.20,313.44 527.03,313.44 530.87,313.43 534.70,313.43"/>
<polyline points="74.80,352.90 75.57,352.68 76.33,352.46 77.10,352.24 77.87,352.02 78.63,351.80 79.40,351.58 80.17,351.35 80.93,351.13 81.70,350.91 82.47,350.68 83.23,350.46 84.00,350.24 84.76,350.01 85.53,349.79 86.30,349.57 87.06,349.35 87.83,349.13 88.60,348.91 89.36,348.69 90.13,348.47 91.66,348.03 93.20,347.60 94.73,347.18 96.26,346.76 97.80,346.35 99.33,345.96 100.86,345.57 102.39,345.19 103.93,344.82 105.46,344.47 106.99,344.13 108.53,343.80 110.06,343.48 111.59,343.17 113.12,342.88 114.66,342.60 116.19,342.34 117.72,342.08 119.26,341.84 120.79,341.61 122.32,341.39 123.86,341.18 125.39,340.98 126.92,340.78 128.45,340.60 129.99,340.43 131.52,340.27 133.05,340.11 134.59,339.96 136.12,339.82 137.65,339.68 139.19,339.55 140.72,339.43 142.25,339.31 143.78,339.19 145.32,339.08 146.85,338.98 148.38,338.88 149.92,338.78 151.45,338.69 152.98,338.60 154.52,338.51 156.05,338.43 157.58,338.35 159.12,338.27 160.65,338.19 162.18,338.12 163.71,338.05 165.25,337.98 166.78,337.91 168.31,337.85 169.85,337.78 171.38,337.72 172.91,337.66 174.44,337.60 175.98,337.54 177.51,337.49 179.04,337.43 180.58,337.38 182.11,337.32 183.64,337.27 185.18,337.22 186.71,337.17 188.24,337.12 189.77,337.07 191.31,337.02 192.84,336.98 194.37,336.93 195.91,336.88 197.44,336.84 198.97,336.79 200.51,336.75 202.04,336.71 203.57,336.66 205.11,336.62 206.64,336.58 208.17,336.54 209.70,336.49 211.24,336.45 212.77,336.41 214.30,336.37 215.84,336.33 217.37,336.29 218.90,336.25 220.44,336.21 221.97,336.18 223.50,336.14 225.03,336.10 226.57,336.06 228.10,336.02 231.93,335.93 235.76,335.84 239.60,335.75 243.43,335.66 247.26,335.57 251.09,335.49 254.93,335.40 258.76,335.32 262.59,335.23 266.43,335.15 270.26,335.07 274.09,334.99 277.92,334.91 281.75,334.83 285.59,334.75 289.42,334.67 293.25,334.59 297.08,334.51 300.92,334.43 304.75,334.35 308.58,334.28 312.42,334.20 316.25,334.13 320.08,334.05 323.91,333.98 327.75,333.90 331.58,333.83 335.41,333.75 339.24,333.68 343.07,333.61 346.91,333.54 350.74,333.46 354.57,333.39 358.41,333.32 362.24,333.25 366.07,333.18 369.90,333.11 373.74,333.04 377.57,332.97 381.40,332.90 385.23,332.83 389.06,332.77 392.90,332.70 396.73,332.63 400.56,332.56 404.40,332.50 408.23,332.43 412.06,332.36 415.89,332.30 419.73,332.23 423.56,332.17 427.39,332.10 431.22,332.04 435.06,331.97 438.89,331.91 442.72,331.84 446.55,331.78 450.38,331.72 454.22,331.65 458.05,331.59 461.88,331.53 465.72,331.47 469.55,331.41 473.38,331.35 477.21,331.28 481.05,331.22 484.88,331.16 488.71,331.10 492.54,331.04 496.38,330.99 500.21,330.93 504.04,330.87 507.87,330.81 511.71,330.75 515.54,330.69 519.37,330.64 523.20,330.58 527.03,330.52 530.87,330.47 534.70,330.41"/>
<polyline points="74.80,352.90 75.57,352.90 76.33,352.90 77.10,352.90 77.87,352.90 78.63,352.89 79.40,352.89 80.17,352.89 80.93,352.88 81.70,352.88 82.47,352.87 83.23,352.87 84.00,352.86 84.76,352.85 85.53,352.84 86.30,352.84 87.06,352.83 87.83,352.82 88.60,352.81 89.36,352.80 90.13,352.79 91.66,352.76 93.20,352.74 94.73,352.71 96.26,352.68 97.80,352.65 99.33,352.62 100.86,352.59 102.39,352.55 103.93,352.52 105.46,352.48 106.99,352.44 108.53,352.41 110.06,352.37 111.59,352.33 113.12,352.29 114.66,352.24 116.19,352.20 117.72,352.16 119.26,352.12 120.79,352.08 122.32,352.04 123.86,351.99 125.39,351.95 126.92,351.91 128.45,351.87 129.99,351.83 131.52,351.78 133.05,351.74 134.59,351.70 136.12,351.66 137.65,351.62 139.19,351.58 140.72,351.54 142.25,351.50 143.78,351.45 145.32,351.41 146.85,351.37 148.38,351.33 149.92,351.29 151.45,351.25 152.98,351.21 154.52,351.17 156.05,351.13 157.58,351.09 159.12,351.05 160.65,351.01 162.18,350.98 163.71,350.94 165.25,350.90 166.78,350.86 168.31,350.82 169.85,350.78 171.38,350.74 172.91,350.70 174.44,350.67 175.98,350.63 177.51,350.59 179.04,350.55 180.58,350.51 182.11,350.48 183.64,350.44 185.18,350.40 186.71,350.36 188.24,350.32 189.77,350.29 191.31,350.25 192.84,350.21 194.37,350.17 195.91,350.14 197.44,350.10 198.97,350.06 200.51,350.03 202.04,349.99 203.57,349.95 205.11,349.91 206.64,349.88 208.17,349.84 209.70,349.80 211.24,349.77 212.77,349.73 214.30,349.69 215.84,349.66 217.37,349.62 218.90,349.58 220.44,349.55 221.97,349.51 223.50,349.47 225.03,349.44 226.57,349.40 228.10,349.36 231.93,349.27 235.76,349.18 239.60,349.09 243.43,349.00 247.26,348.91 251.09,348.82 254.93,348.73 258.76,348.64 262.59,348.55 266.43,348.46 270.26,348.37 274.09,348.28 277.92,348.19 281.75,348.10 285.59,348.01 289.42,347.92 293.25,347.83 297.08,347.74 300.92,347.65 304.75,347.56 308.58,347.48 312.42,347.39 316.25,347.30 320.08,347.21 323.91,347.12 327.75,347.03 331.58,346.95 335.41,346.86 339.24,346.77 343.07,346.68 346.91,346.59 350.74,346.51 354.57,346.42 358.41,346.33 362.24,346.25 366.07,346.16 369.90,346.07 373.74,345.98 377.57,345.90 381.40,345.81 385.23,345.73 389.06,345.64 392.90,345.55 396.73,345.47 400.56,345.38 404.40,345.30 408.23,345.21 412.06,345.12 415.89,345.04 419.73,344.95 423.56,344.87 427.39,344.78 431.22,344.70 435.06,344.62 438.89,344.53 442.72,344.45 446.55,344.36 450.38,344.28 454.22,344.19 458.05,344.11 461.88,344.03 465.72,343.94 469.55,343.86 473.38,343.78 477.21,343.70 481.05,343.61 484.88,343.53 488.71,343.45 492.54,343.37 496.38,343.28 500.21,343.20 504.04,343.12 507.87,343.04 511.71,342.96 515.54,342.88 519.37,342.80 523.20,342.72 527.03,342.64 530.87,342.55 534.70,342.47"/>
<polyline points="74.80,352.90 534.70,352.90"/>
</g>
<g fill="none" stroke-width="2.3" stroke-linejoin="round">
<path d="M335.00,352.00 334.20,351.95 333.40,351.88 332.61,351.79 331.81,351.68 331.02,351.54 330.24,351.38 329.46,351.20 328.68,351.00 327.92,350.77 327.15,350.52 326.40,350.25 325.65,349.96 324.92,349.64 324.19,349.31 323.47,348.95 322.76,348.58 322.07,348.19 321.38,347.77 320.70,347.34 320.04,346.90 319.38,346.44 318.74,345.96 318.10,345.47 317.48,344.97 316.86,344.46 316.26,343.93 315.67,343.39 315.08,342.85 314.50,342.29 313.94,341.72 313.38,341.15 312.83,340.57 312.28,339.98 311.75,339.39 311.21,338.79 310.69,338.18 310.17,337.57 309.66,336.95 309.15,336.34 308.65,335.71 308.15,335.09 307.65,334.46 307.16,333.82 306.67,333.19 306.18,332.55 305.70,331.92 305.22,331.28 304.74,330.64 304.26,329.99 303.78,329.35 303.31,328.70 302.83,328.06 302.36,327.41 301.89,326.76 301.42,326.11 300.96,325.46 300.49,324.81 300.03,324.15 299.57,323.50 299.11,322.84 298.65,322.19 298.19,321.53 297.73,320.87 297.27,320.22 296.82,319.56 296.36,318.90 295.90,318.24 295.45,317.58 295.00,316.92 294.54,316.26 294.09,315.60 293.64,314.94 293.18,314.28 292.73,313.62 292.28,312.96 291.82,312.30 291.37,311.63 290.92,310.97 290.46,310.31 290.01,309.65 289.55,309.00 289.10,308.34 288.64,307.68 288.18,307.02 287.72,306.36 287.27,305.71 286.81,305.05 286.34,304.40 285.88,303.74 285.42,303.09 284.95,302.44 284.49,301.78 284.02,301.13 283.55,300.49 283.08,299.84 282.60,299.19 282.13,298.55 281.65,297.90 281.17,297.26 280.69,296.62 280.21,295.98 279.73,295.34 279.24,294.70 278.76,294.07 278.27,293.43 277.78,292.80 277.28,292.17 276.79,291.54 276.29,290.91 275.80,290.28 275.30,289.65 274.80,289.02 274.30,288.40 273.79,287.78 273.29,287.16 272.78,286.53 272.27,285.92 271.76,285.30 271.25,284.68 270.74,284.06 270.23,283.45 269.71,282.84 269.19,282.23 268.67,281.61 268.15,281.01 267.63,280.40 267.11,279.79 266.59,279.18 266.06,278.58 265.53,277.98 265.00,277.37 264.47,276.77 263.94,276.17 263.41,275.57 262.88,274.98 262.34,274.38 261.81,273.79 261.27,273.19 260.73,272.60 260.19,272.01 259.65,271.42 259.11,270.83 258.56,270.24 258.02,269.65 257.47,269.07 256.92,268.48 256.37,267.90 255.82,267.32 255.27,266.73 254.72,266.15 254.17,265.57 253.61,265.00 253.06,264.42 252.50,263.84 251.94,263.27 251.38,262.69 250.82,262.12 250.26,261.55 249.70,260.98 249.14,260.41 248.57,259.84 248.01,259.27 247.44,258.70 246.88,258.14 246.31,257.57 245.74,257.01 245.17,256.45 244.60,255.88 244.02,255.32 243.45,254.76 242.88,254.20 242.30,253.65 241.73,253.09 241.15,252.53 240.57,251.98 240.00,251.42 239.42,250.87 238.84,250.32 238.26,249.77 237.67,249.21 237.09,248.66 236.51,248.12 235.92,247.57 235.34,247.02 234.75,246.47 234.17,245.93 233.58,245.38 232.99,244.84 232.40,244.29 231.81,243.75 231.22,243.21 230.63,242.67 230.04,242.13 229.45,241.59 228.86,241.05 228.26,240.51 227.67,239.98 227.07,239.44 226.48,238.90 225.88,238.37 225.28,237.83 224.69,237.30 224.09,236.77 223.49,236.24 222.89,235.70 222.29,235.17 221.69,234.64 221.09,234.11 220.49,233.58 219.88,233.06 219.28,232.53 218.68,232.00 218.07,231.48 217.47,230.95 216.86,230.42 216.26,229.90 215.65,229.38 215.05,228.85 214.44,228.33 213.83,227.81 213.22,227.29 212.62,226.76 212.01,226.24 211.40,225.72 210.79,225.20 210.18,224.68 209.57,224.17 208.96,223.65 208.34,223.13 207.73,222.61 207.12,222.10 206.51,221.58 205.89,221.06 205.28,220.55 204.67,220.03 204.05,219.52 203.44,219.00 202.82,218.49 202.21,217.98 201.59,217.46 200.98,216.95 200.36,216.44 199.75,215.93 199.13,215.42 198.51,214.90 197.90,214.39 197.28,213.88 196.66,213.37 196.04,212.86 195.43,212.35 194.81,211.84 194.20,211.33 193.58,210.81 192.97,210.30 192.36,209.78 191.74,209.26 191.13,208.74 190.53,208.22 189.92,207.70 189.32,207.17 188.71,206.64 188.12,206.11 187.52,205.57 186.93,205.04 186.33,204.50 185.75,203.95 185.16,203.40 184.58,202.85 184.01,202.29 183.44,201.73 182.87,201.17 182.30,200.60 181.75,200.02 181.19,199.44 180.65,198.86 180.10,198.27 179.57,197.67 179.04,197.07 178.52,196.46 178.00,195.85 177.49,195.23 176.99,194.61 176.50,193.98 176.01,193.34 175.53,192.70 175.06,192.05 174.60,191.39 174.15,190.73 173.70,190.06 173.27,189.39 172.83,188.72 172.41,188.04 171.99,187.36 171.58,186.67 171.17,185.98 170.77,185.29 170.37,184.59 169.98,183.89 169.59,183.19 169.21,182.49 168.83,181.78 168.45,181.08 168.08,180.37 167.70,179.66 167.33,178.95 166.97,178.24 166.60,177.52 166.23,176.81 165.87,176.10 165.51,175.38 165.14,174.67 164.78,173.96 164.42,173.24 164.06,172.52 163.70,171.81 163.34,171.09 162.98,170.38 162.63,169.66 162.27,168.94 161.91,168.22 161.56,167.50 161.21,166.79 160.85,166.07 160.50,165.35 160.15,164.63 159.80,163.91 159.45,163.19 159.10,162.46 158.75,161.74 158.41,161.02 158.06,160.30 157.71,159.58 157.37,158.85 157.03,158.13 156.68,157.40 156.34,156.68 156.00,155.96 155.66,155.23 155.32,154.51 154.98,153.78 154.64,153.05 154.30,152.33 153.97,151.60 153.63,150.87 153.29,150.14 152.96,149.42 152.63,148.69 152.29,147.96 151.96,147.23 151.63,146.50 151.30,145.77 150.97,145.04 150.64,144.31 150.31,143.58 149.99,142.85 149.66,142.12 149.33,141.39 149.01,140.65 148.68,139.92 148.36,139.19 148.04,138.45 147.72,137.72 147.39,136.99 147.07,136.25 146.75,135.52 146.44,134.78 146.12,134.05 145.80,133.31 145.48,132.58 145.17,131.84 144.85,131.10 144.54,130.37 144.23,129.63 143.91,128.89 143.60,128.15 143.29,127.41 142.98,126.68 142.67,125.94 142.36,125.20 142.05,124.46 141.75,123.72 141.44,122.98 141.14,122.24 140.83,121.50 140.53,120.75 140.23,120.01 139.93,119.27 139.63,118.53 139.33,117.78 139.03,117.04 138.74,116.29 138.45,115.55 138.16,114.80 137.87,114.05 137.59,113.30 137.31,112.55 137.03,111.80 136.75,111.05 136.48,110.30 136.21,109.54 135.94,108.79 135.68,108.03 135.42,107.27 135.17,106.51 134.91,105.75 134.67,104.99 134.42,104.23 134.18,103.46 133.95,102.70 133.72,101.93 133.49,101.16 133.27,100.39 133.06,99.62 132.84,98.84 132.64,98.07 132.44,97.30 132.24,96.52 132.05,95.74 131.87,94.96 131.69,94.18 131.52,93.40 131.35,92.61 131.19,91.83 131.04,91.04 130.89,90.25 130.75,89.47 130.61,88.68 130.48,87.89 130.36,87.09 130.25,86.30 130.14,85.51 130.04,84.71 129.94,83.92 129.86,83.12 129.78,82.32 129.70,81.53 129.64,80.73 129.58,79.93 129.52,79.13 129.48,78.33 129.44,77.53 129.41,76.73 129.39,75.93 129.38,75.13 129.37,74.33 129.37,73.52 129.37,72.72 129.39,71.92 129.41,71.12 129.44,70.32 129.47,69.52 129.52,68.72 129.57,67.92 129.62,67.12 129.69,66.32 129.76,65.53 129.84,64.73 129.94,63.93 130.04,63.14 130.16,62.35 130.29,61.56 130.45,60.77 130.62,59.99 130.83,59.21 131.08,58.45 131.38,57.71 131.77,57.01 132.31,56.42 133.03,56.11 133.81,56.24 134.50,56.65 135.08,57.20 135.59,57.81 136.04,58.48 136.45,59.17 136.82,59.88 137.17,60.60 137.49,61.33 137.79,62.07 138.08,62.82 138.36,63.57 138.62,64.33 138.88,65.09 139.13,65.85 139.37,66.61 139.61,67.38 139.85,68.14 140.08,68.91 140.30,69.68 140.53,70.45 140.75,71.22 140.98,71.99 141.20,72.76 141.42,73.53 141.64,74.30 141.86,75.07 142.09,75.83 142.31,76.60 142.54,77.37 142.76,78.14 142.99,78.91 143.22,79.68 143.46,80.44 143.69,81.21 143.93,81.97 144.17,82.74 144.41,83.50 144.66,84.26 144.90,85.03 145.15,85.79 145.39,86.55 145.64,87.31 145.89,88.08 146.13,88.84 146.38,89.60 146.63,90.36 146.88,91.12 147.13,91.88 147.38,92.65 147.62,93.41 147.87,94.17 148.12,94.93 148.36,95.70 148.61,96.46 148.85,97.22 149.09,97.99 149.33,98.75 149.58,99.51 149.81,100.28 150.05,101.04 150.29,101.81 150.53,102.57 150.77,103.34 151.00,104.10 151.24,104.87 151.47,105.63 151.71,106.40 151.94,107.17 152.18,107.93 152.41,108.70 152.65,109.46 152.88,110.23 153.12,111.00 153.35,111.76 153.59,112.53 153.82,113.29 154.06,114.06 154.29,114.83 154.53,115.59 154.76,116.36 155.00,117.12 155.24,117.89 155.47,118.65 155.71,119.42 155.95,120.18 156.19,120.95 156.43,121.71 156.67,122.48 156.92,123.24 157.16,124.00 157.41,124.76 157.65,125.53 157.90,126.29 158.15,127.05 158.40,127.81 158.65,128.57 158.90,129.33 159.15,130.09 159.41,130.85 159.66,131.61 159.92,132.37 160.18,133.13 160.44,133.88 160.71,134.64 160.97,135.40 161.24,136.15 161.51,136.91 161.78,137.66 162.06,138.41 162.33,139.17 162.61,139.92 162.89,140.67 163.17,141.42 163.46,142.17 163.75,142.91 164.03,143.66 164.33,144.41 164.62,145.15 164.91,145.90 165.21,146.64 165.51,147.38 165.81,148.13 166.12,148.87 166.42,149.61 166.73,150.35 167.04,151.09 167.35,151.82 167.67,152.56 167.99,153.30 168.30,154.03 168.62,154.77 168.95,155.50 169.27,156.23 169.60,156.96 169.93,157.69 170.26,158.42 170.59,159.15 170.92,159.88 171.26,160.61 171.60,161.33 171.94,162.06 172.28,162.78 172.63,163.51 172.97,164.23 173.32,164.95 173.67,165.67 174.02,166.39 174.38,167.11 174.73,167.83 175.09,168.54 175.45,169.26 175.81,169.98 176.17,170.69 176.54,171.40 176.91,172.12 177.27,172.83 177.64,173.54 178.02,174.25 178.39,174.95 178.77,175.66 179.14,176.37 179.52,177.07 179.90,177.78 180.29,178.48 180.67,179.19 181.06,179.89 181.45,180.59 181.84,181.29 182.23,181.99 182.62,182.69 183.01,183.38 183.41,184.08 183.81,184.77 184.21,185.47 184.61,186.16 185.01,186.85 185.42,187.55 185.83,188.24 186.23,188.93 186.64,189.61 187.05,190.30 187.47,190.99 187.88,191.67 188.30,192.36 188.71,193.04 189.13,193.72 189.55,194.41 189.98,195.09 190.40,195.77 190.83,196.45 191.25,197.12 191.68,197.80 192.11,198.48 192.54,199.15 192.98,199.83 193.41,200.50 193.85,201.17 194.28,201.84 194.72,202.51 195.16,203.18 195.60,203.85 196.05,204.52 196.49,205.18 196.94,205.85 197.39,206.51 197.84,207.18 198.29,207.84 198.74,208.50 199.19,209.16 199.64,209.82 200.10,210.48 200.56,211.14 201.02,211.80 201.48,212.45 201.94,213.11 202.40,213.76 202.86,214.41 203.33,215.07 203.80,215.72 204.26,216.37 204.73,217.02 205.20,217.67 205.68,218.31 206.15,218.96 206.62,219.60 207.10,220.25 207.58,220.89 208.05,221.54 208.53,222.18 209.01,222.82 209.50,223.46 209.98,224.10 210.46,224.74 210.95,225.37 211.44,226.01 211.92,226.64 212.41,227.28 212.90,227.91 213.40,228.54 213.89,229.18 214.38,229.81 214.88,230.44 215.37,231.07 215.87,231.69 216.37,232.32 216.87,232.95 217.37,233.57 217.87,234.20 218.38,234.82 218.88,235.44 219.39,236.06 219.89,236.68 220.40,237.30 220.91,237.92 221.42,238.54 221.93,239.16 222.44,239.77 222.96,240.39 223.47,241.00 223.99,241.62 224.50,242.23 225.02,242.84 225.54,243.45 226.06,244.06 226.58,244.67 227.10,245.28 227.62,245.89 228.14,246.49 228.67,247.10 229.19,247.70 229.72,248.31 230.25,248.91 230.77,249.52 231.30,250.12 231.83,250.72 232.36,251.32 232.89,251.92 233.42,252.52 233.96,253.12 234.49,253.71 235.02,254.31 235.56,254.91 236.09,255.50 236.63,256.10 237.17,256.69 237.70,257.29 238.24,257.88 238.78,258.47 239.32,259.07 239.86,259.66 240.40,260.25 240.94,260.84 241.49,261.43 242.03,262.02 242.57,262.61 243.11,263.20 243.66,263.79 244.20,264.37 244.75,264.96 245.29,265.55 245.84,266.13 246.39,266.72 246.93,267.31 247.48,267.89 248.03,268.48 248.58,269.06 249.12,269.64 249.67,270.23 250.22,270.81 250.77,271.39 251.32,271.98 251.87,272.56 252.42,273.14 252.97,273.72 253.52,274.30 254.07,274.89 254.63,275.47 255.18,276.05 255.73,276.63 256.28,277.21 256.83,277.79 257.39,278.37 257.94,278.95 258.49,279.53 259.04,280.11 259.60,280.69 260.15,281.27 260.70,281.85 261.26,282.43 261.81,283.01 262.36,283.59 262.92,284.17 263.47,284.74 264.02,285.32 264.58,285.90 265.13,286.48 265.68,287.06 266.24,287.64 266.79,288.22 267.34,288.80 267.90,289.38 268.45,289.96 269.01,290.54 269.56,291.12 270.11,291.69 270.67,292.27 271.22,292.85 271.78,293.43 272.33,294.01 272.89,294.58 273.44,295.16 274.00,295.74 274.56,296.31 275.11,296.89 275.67,297.46 276.23,298.04 276.79,298.61 277.35,299.18 277.91,299.75 278.47,300.33 279.04,300.90 279.60,301.46 280.17,302.03 280.73,302.60 281.30,303.17 281.86,303.73 282.43,304.30 283.00,304.86 283.57,305.42 284.15,305.98 284.72,306.54 285.29,307.10 285.87,307.66 286.45,308.21 287.03,308.77 287.61,309.32 288.19,309.87 288.77,310.42 289.36,310.97 289.94,311.51 290.53,312.06 291.12,312.60 291.71,313.14 292.30,313.68 292.90,314.22 293.49,314.75 294.09,315.29 294.69,315.82 295.29,316.35 295.90,316.87 296.50,317.40 297.11,317.92 297.72,318.44 298.33,318.96 298.95,319.47 299.56,319.98 300.18,320.49 300.80,321.00 301.42,321.51 302.04,322.01 302.67,322.51 303.30,323.00 303.93,323.50 304.56,323.99 305.20,324.48 305.84,324.96 306.48,325.44 307.12,325.92 307.76,326.40 308.41,326.87 309.06,327.34 309.71,327.81 310.37,328.27 311.02,328.73 311.68,329.19 312.34,329.64 313.00,330.09 313.67,330.53 314.34,330.98 315.01,331.42 315.68,331.85 316.35,332.28 317.03,332.71 317.71,333.14 318.39,333.56 319.07,333.98 319.76,334.39 320.45,334.80 321.14,335.21 321.83,335.61 322.52,336.01 323.22,336.41 323.92,336.80 324.62,337.19 325.32,337.57 326.03,337.96 326.73,338.33 327.44,338.70 328.16,339.07 328.87,339.44 329.58,339.80 330.30,340.15 331.02,340.51 331.74,340.85 332.47,341.20 333.19,341.54 333.92,341.87 334.65,342.20 335.38,342.53 336.11,342.85 336.85,343.17 337.59,343.48 338.33,343.79 339.07,344.10 339.81,344.39 340.56,344.69 341.30,344.98 342.05,345.26 342.80,345.55 343.55,345.82 344.31,346.09 345.06,346.36 345.82,346.62 346.58,346.87 347.34,347.13 348.10,347.37 348.87,347.61 349.63,347.85 350.40,348.08 351.17,348.30 351.94,348.52 352.71,348.74 353.48,348.95 354.26,349.15 355.04,349.35 355.81,349.54 356.59,349.73 357.37,349.91 358.15,350.09 358.94,350.26 359.72,350.42 360.51,350.58 361.29,350.74 362.08,350.88 362.87,351.03 363.66,351.16 364.45,351.29 365.24,351.41 366.03,351.53 366.83,351.64 367.62,351.75 368.41,351.85 369.21,351.94 370.01,352.03 370.80,352.11 371.60,352.18 372.40,352.25 373.20,352.31 374.00,352.37 374.80,352.42 375.60,352.46 376.40,352.50 377.20,352.53 378.00,352.55 378.80,352.57 379.60,352.58 380.40,352.58 381.20,352.58 382.00,352.57 382.81,352.55 383.61,352.53 384.41,352.50 385.21,352.46 386.01,352.42 386.81,352.37 387.61,352.31 388.40,352.25 389.20,352.18 390.00,352.10 L430,352.2 481,352.2 335,352" stroke="#000" stroke-width="3"/>
<path d="M345.00,352.00 344.21,351.90 343.41,351.78 342.63,351.63 341.84,351.46 341.07,351.27 340.30,351.05 339.54,350.80 338.78,350.53 338.04,350.23 337.31,349.90 336.59,349.55 335.88,349.18 335.18,348.78 334.50,348.36 333.84,347.91 333.19,347.45 332.55,346.96 331.93,346.45 331.32,345.93 330.73,345.39 330.16,344.83 329.60,344.25 329.06,343.67 328.53,343.07 328.01,342.45 327.51,341.83 327.02,341.20 326.54,340.55 326.07,339.90 325.62,339.24 325.17,338.58 324.74,337.91 324.31,337.23 323.89,336.54 323.49,335.85 323.08,335.16 322.69,334.46 322.30,333.76 321.92,333.06 321.54,332.35 321.17,331.64 320.80,330.93 320.44,330.22 320.07,329.50 319.72,328.79 319.36,328.07 319.00,327.35 318.65,326.63 318.30,325.92 317.94,325.20 317.59,324.48 317.23,323.76 316.88,323.04 316.52,322.33 316.16,321.61 315.80,320.89 315.44,320.18 315.08,319.47 314.71,318.75 314.35,318.04 313.98,317.33 313.61,316.62 313.24,315.91 312.86,315.20 312.49,314.49 312.11,313.78 311.74,313.08 311.36,312.37 310.98,311.67 310.59,310.96 310.21,310.26 309.82,309.56 309.44,308.86 309.05,308.16 308.66,307.46 308.26,306.76 307.87,306.06 307.47,305.37 307.07,304.67 306.67,303.98 306.27,303.29 305.87,302.59 305.46,301.90 305.05,301.21 304.64,300.53 304.23,299.84 303.82,299.15 303.40,298.47 302.99,297.78 302.57,297.10 302.14,296.42 301.72,295.74 301.30,295.06 300.87,294.38 300.44,293.71 300.01,293.03 299.57,292.36 299.14,291.69 298.70,291.02 298.26,290.35 297.82,289.68 297.38,289.01 296.93,288.35 296.48,287.68 296.03,287.02 295.58,286.36 295.12,285.70 294.67,285.04 294.21,284.39 293.75,283.73 293.28,283.08 292.82,282.43 292.35,281.78 291.88,281.13 291.41,280.48 290.93,279.84 290.46,279.19 289.98,278.55 289.49,277.91 289.01,277.27 288.52,276.64 288.04,276.00 287.55,275.37 287.05,274.74 286.56,274.11 286.06,273.48 285.56,272.85 285.06,272.23 284.55,271.61 284.05,270.99 283.54,270.37 283.02,269.75 282.51,269.14 281.99,268.53 281.48,267.92 280.95,267.31 280.43,266.70 279.90,266.10 279.38,265.49 278.85,264.89 278.31,264.29 277.78,263.70 277.24,263.10 276.71,262.51 276.17,261.92 275.62,261.33 275.08,260.74 274.53,260.16 273.98,259.57 273.43,258.99 272.88,258.41 272.33,257.83 271.77,257.25 271.22,256.68 270.66,256.10 270.10,255.53 269.54,254.96 268.97,254.39 268.41,253.82 267.84,253.26 267.27,252.69 266.70,252.13 266.13,251.57 265.56,251.01 264.99,250.45 264.41,249.89 263.83,249.33 263.26,248.78 262.68,248.22 262.10,247.67 261.52,247.12 260.93,246.57 260.35,246.02 259.77,245.47 259.18,244.93 258.59,244.38 258.01,243.84 257.42,243.29 256.83,242.75 256.24,242.21 255.65,241.67 255.05,241.13 254.46,240.59 253.87,240.06 253.27,239.52 252.68,238.98 252.08,238.45 251.48,237.92 250.89,237.38 250.29,236.85 249.69,236.32 249.09,235.79 248.49,235.26 247.89,234.73 247.28,234.20 246.68,233.67 246.08,233.14 245.48,232.62 244.87,232.09 244.27,231.56 243.67,231.04 243.06,230.51 242.46,229.99 241.85,229.46 241.24,228.94 240.64,228.41 240.03,227.89 239.42,227.37 238.82,226.85 238.21,226.32 237.60,225.80 237.00,225.28 236.39,224.76 235.78,224.24 235.17,223.71 234.56,223.19 233.96,222.67 233.35,222.15 232.74,221.63 232.13,221.11 231.53,220.58 230.92,220.06 230.31,219.54 229.70,219.02 229.09,218.50 228.49,217.97 227.88,217.45 227.27,216.93 226.67,216.41 226.06,215.88 225.45,215.36 224.85,214.84 224.24,214.31 223.64,213.79 223.03,213.26 222.43,212.74 221.82,212.21 221.22,211.68 220.62,211.16 220.01,210.63 219.41,210.10 218.81,209.57 218.21,209.04 217.61,208.51 217.01,207.98 216.41,207.45 215.81,206.92 215.21,206.39 214.61,205.85 214.02,205.32 213.42,204.78 212.83,204.25 212.23,203.71 211.64,203.17 211.05,202.63 210.45,202.09 209.86,201.55 209.27,201.01 208.68,200.47 208.10,199.92 207.51,199.38 206.92,198.83 206.34,198.28 205.76,197.74 205.17,197.19 204.59,196.63 204.01,196.08 203.43,195.53 202.86,194.97 202.28,194.42 201.70,193.86 201.13,193.30 200.56,192.74 199.99,192.18 199.42,191.61 198.85,191.05 198.28,190.48 197.72,189.91 197.16,189.35 196.59,188.77 196.04,188.20 195.48,187.63 194.92,187.05 194.37,186.47 193.81,185.89 193.26,185.31 192.71,184.73 192.16,184.15 191.61,183.56 191.07,182.98 190.52,182.39 189.97,181.81 189.43,181.22 188.88,180.63 188.34,180.04 187.80,179.45 187.25,178.87 186.71,178.28 186.17,177.69 185.62,177.10 185.08,176.51 184.54,175.93 183.99,175.34 183.44,174.75 182.90,174.17 182.35,173.58 181.80,173.00 181.25,172.41 180.70,171.83 180.15,171.25 179.60,170.67 179.04,170.09 178.49,169.52 177.93,168.94 177.37,168.37 176.81,167.80 176.24,167.23 175.68,166.67 175.11,166.10 174.54,165.54 173.96,164.98 173.39,164.42 172.81,163.87 172.23,163.32 171.65,162.77 171.06,162.22 170.47,161.68 169.88,161.14 169.29,160.60 168.69,160.07 168.09,159.54 167.48,159.01 166.88,158.49 166.27,157.97 165.65,157.45 165.04,156.94 164.42,156.43 163.80,155.93 163.18,155.42 162.55,154.92 161.93,154.41 161.31,153.91 160.68,153.41 160.05,152.91 159.43,152.41 158.80,151.91 158.18,151.41 157.56,150.91 156.94,150.40 156.31,149.89 155.70,149.39 155.08,148.87 154.47,148.36 153.86,147.84 153.25,147.32 152.64,146.79 152.05,146.26 151.45,145.72 150.86,145.18 150.27,144.64 149.70,144.08 149.12,143.52 148.56,142.96 148.00,142.38 147.45,141.80 146.91,141.21 146.38,140.61 145.86,140.00 145.34,139.38 144.84,138.76 144.35,138.12 143.88,137.48 143.41,136.83 142.96,136.17 142.51,135.50 142.08,134.83 141.66,134.15 141.25,133.46 140.86,132.76 140.47,132.06 140.10,131.35 139.74,130.63 139.40,129.91 139.06,129.18 138.74,128.45 138.43,127.71 138.13,126.97 137.85,126.22 137.57,125.47 137.31,124.71 137.06,123.95 136.82,123.18 136.60,122.41 136.38,121.64 136.18,120.87 135.99,120.09 135.81,119.31 135.64,118.53 135.48,117.74 135.34,116.95 135.20,116.16 135.07,115.37 134.96,114.58 134.85,113.79 134.76,112.99 134.67,112.19 134.60,111.40 134.53,110.60 134.47,109.80 134.42,109.00 134.38,108.20 134.35,107.40 134.33,106.60 134.32,105.80 134.31,105.00 134.31,104.20 134.32,103.40 134.34,102.59 134.37,101.79 134.40,100.99 134.44,100.19 134.49,99.39 134.54,98.59 134.60,97.80 134.67,97.00 134.74,96.20 134.83,95.40 134.91,94.61 135.01,93.81 135.11,93.02 135.21,92.22 135.32,91.43 135.44,90.64 135.56,89.85 135.69,89.05 135.82,88.26 135.96,87.48 136.10,86.69 136.25,85.90 136.41,85.11 136.56,84.33 136.73,83.55 136.90,82.76 137.07,81.98 137.24,81.20 137.42,80.42 137.61,79.64 137.80,78.86 138.00,78.08 138.20,77.31 138.42,76.54 138.63,75.77 138.86,75.00 139.10,74.23 139.34,73.47 139.60,72.71 139.87,71.96 140.15,71.21 140.44,70.46 140.75,69.72 141.08,68.99 141.42,68.27 141.78,67.55 142.15,66.84 142.55,66.15 142.97,65.47 143.42,64.80 143.89,64.16 144.39,63.53 144.92,62.93 145.48,62.35 146.07,61.81 146.69,61.31 147.34,60.85 148.03,60.43 148.75,60.09 149.51,59.82 150.29,59.66 151.09,59.62 151.89,59.69 152.67,59.86 153.43,60.11 154.17,60.42 154.88,60.79 155.56,61.21 156.22,61.67 156.85,62.16 157.46,62.68 158.04,63.24 158.58,63.82 159.10,64.43 159.60,65.06 160.06,65.71 160.50,66.38 160.92,67.07 161.31,67.77 161.68,68.48 162.03,69.20 162.36,69.92 162.68,70.66 162.98,71.40 163.26,72.15 163.54,72.91 163.80,73.66 164.05,74.43 164.29,75.19 164.52,75.96 164.74,76.73 164.96,77.50 165.17,78.27 165.38,79.04 165.58,79.82 165.79,80.59 165.99,81.37 166.18,82.14 166.38,82.92 166.58,83.70 166.78,84.47 166.98,85.25 167.17,86.02 167.37,86.80 167.57,87.58 167.76,88.35 167.96,89.13 168.15,89.91 168.35,90.68 168.54,91.46 168.74,92.24 168.93,93.02 169.12,93.79 169.32,94.57 169.51,95.35 169.70,96.12 169.90,96.90 170.09,97.68 170.28,98.46 170.48,99.23 170.67,100.01 170.86,100.79 171.05,101.57 171.24,102.35 171.44,103.12 171.63,103.90 171.82,104.68 172.01,105.46 172.20,106.23 172.40,107.01 172.59,107.79 172.78,108.57 172.97,109.34 173.16,110.12 173.36,110.90 173.55,111.68 173.74,112.45 173.93,113.23 174.13,114.01 174.32,114.79 174.51,115.56 174.70,116.34 174.90,117.12 175.09,117.90 175.28,118.67 175.48,119.45 175.67,120.23 175.87,121.01 176.06,121.78 176.26,122.56 176.45,123.34 176.65,124.11 176.84,124.89 177.04,125.67 177.24,126.44 177.43,127.22 177.63,128.00 177.83,128.77 178.03,129.55 178.23,130.32 178.42,131.10 178.62,131.88 178.82,132.65 179.03,133.43 179.23,134.20 179.43,134.98 179.63,135.75 179.83,136.53 180.04,137.30 180.24,138.08 180.45,138.85 180.65,139.62 180.86,140.40 181.06,141.17 181.27,141.95 181.48,142.72 181.69,143.49 181.90,144.27 182.11,145.04 182.32,145.81 182.53,146.58 182.74,147.36 182.96,148.13 183.17,148.90 183.38,149.67 183.60,150.44 183.82,151.21 184.03,151.99 184.25,152.76 184.47,153.53 184.69,154.30 184.91,155.07 185.14,155.84 185.36,156.61 185.58,157.37 185.81,158.14 186.03,158.91 186.26,159.68 186.49,160.45 186.72,161.22 186.95,161.98 187.18,162.75 187.41,163.52 187.65,164.28 187.88,165.05 188.12,165.81 188.36,166.58 188.59,167.34 188.83,168.11 189.08,168.87 189.32,169.63 189.56,170.40 189.81,171.16 190.05,171.92 190.30,172.68 190.55,173.45 190.80,174.21 191.05,174.97 191.30,175.73 191.55,176.49 191.81,177.25 192.07,178.01 192.32,178.76 192.58,179.52 192.85,180.28 193.11,181.04 193.37,181.79 193.64,182.55 193.90,183.30 194.17,184.06 194.44,184.81 194.71,185.57 194.99,186.32 195.26,187.07 195.54,187.82 195.82,188.57 196.10,189.32 196.38,190.07 196.66,190.82 196.95,191.57 197.23,192.32 197.52,193.07 197.81,193.81 198.10,194.56 198.39,195.31 198.69,196.05 198.99,196.80 199.28,197.54 199.58,198.28 199.89,199.02 200.19,199.76 200.50,200.50 200.80,201.24 201.11,201.98 201.42,202.72 201.74,203.46 202.05,204.19 202.37,204.93 202.69,205.66 203.01,206.40 203.33,207.13 203.66,207.86 203.98,208.60 204.31,209.33 204.64,210.06 204.98,210.78 205.31,211.51 205.65,212.24 205.98,212.97 206.32,213.69 206.67,214.41 207.01,215.14 207.36,215.86 207.70,216.58 208.05,217.30 208.41,218.02 208.76,218.74 209.11,219.46 209.47,220.18 209.83,220.89 210.19,221.61 210.55,222.32 210.92,223.03 211.29,223.75 211.65,224.46 212.02,225.17 212.40,225.88 212.77,226.59 213.15,227.29 213.52,228.00 213.90,228.71 214.28,229.41 214.67,230.11 215.05,230.82 215.44,231.52 215.82,232.22 216.21,232.92 216.61,233.62 217.00,234.32 217.39,235.01 217.79,235.71 218.19,236.40 218.59,237.10 218.99,237.79 219.39,238.48 219.80,239.17 220.21,239.86 220.62,240.55 221.03,241.24 221.44,241.93 221.85,242.61 222.27,243.30 222.68,243.98 223.10,244.66 223.52,245.35 223.95,246.03 224.37,246.71 224.80,247.38 225.22,248.06 225.65,248.74 226.08,249.41 226.51,250.09 226.95,250.76 227.38,251.44 227.82,252.11 228.26,252.78 228.70,253.45 229.14,254.11 229.58,254.78 230.03,255.45 230.47,256.11 230.92,256.78 231.37,257.44 231.82,258.10 232.27,258.76 232.73,259.42 233.18,260.08 233.64,260.74 234.10,261.40 234.56,262.05 235.02,262.71 235.49,263.36 235.95,264.01 236.42,264.66 236.88,265.31 237.35,265.96 237.82,266.61 238.30,267.26 238.77,267.90 239.25,268.55 239.72,269.19 240.20,269.83 240.68,270.48 241.16,271.12 241.64,271.76 242.13,272.39 242.61,273.03 243.10,273.67 243.59,274.30 244.08,274.94 244.57,275.57 245.06,276.20 245.56,276.83 246.05,277.46 246.55,278.09 247.05,278.71 247.55,279.34 248.05,279.97 248.55,280.59 249.06,281.21 249.56,281.83 250.07,282.45 250.58,283.07 251.08,283.69 251.60,284.31 252.11,284.92 252.62,285.54 253.14,286.15 253.65,286.77 254.17,287.38 254.69,287.99 255.21,288.60 255.73,289.20 256.25,289.81 256.78,290.42 257.30,291.02 257.83,291.62 258.36,292.23 258.89,292.83 259.42,293.43 259.95,294.03 260.48,294.62 261.02,295.22 261.55,295.82 262.09,296.41 262.63,297.00 263.17,297.60 263.71,298.19 264.25,298.78 264.80,299.36 265.34,299.95 265.89,300.54 266.43,301.12 266.98,301.71 267.53,302.29 268.08,302.87 268.63,303.45 269.19,304.03 269.74,304.61 270.30,305.18 270.86,305.76 271.41,306.33 271.97,306.91 272.54,307.48 273.10,308.05 273.66,308.62 274.23,309.18 274.80,309.75 275.37,310.31 275.94,310.87 276.51,311.44 277.08,311.99 277.66,312.55 278.23,313.11 278.81,313.66 279.39,314.21 279.97,314.76 280.56,315.31 281.14,315.86 281.73,316.40 282.32,316.95 282.91,317.49 283.50,318.03 284.10,318.56 284.70,319.10 285.29,319.63 285.89,320.16 286.50,320.69 287.10,321.21 287.71,321.74 288.32,322.26 288.93,322.77 289.54,323.29 290.16,323.80 290.77,324.31 291.39,324.82 292.01,325.33 292.64,325.83 293.26,326.33 293.89,326.83 294.52,327.32 295.15,327.81 295.79,328.30 296.43,328.79 297.07,329.27 297.71,329.75 298.35,330.22 299.00,330.69 299.65,331.16 300.30,331.63 300.96,332.09 301.61,332.55 302.27,333.00 302.93,333.46 303.60,333.90 304.26,334.35 304.93,334.79 305.60,335.23 306.28,335.66 306.96,336.09 307.63,336.51 308.32,336.93 309.00,337.35 309.69,337.76 310.38,338.17 311.07,338.57 311.76,338.97 312.46,339.36 313.16,339.75 313.86,340.14 314.57,340.52 315.28,340.89 315.99,341.26 316.70,341.63 317.41,341.99 318.13,342.35 318.85,342.70 319.58,343.04 320.30,343.38 321.03,343.72 321.76,344.05 322.49,344.37 323.23,344.69 323.96,345.00 324.70,345.31 325.45,345.61 326.19,345.90 326.94,346.19 327.69,346.48 328.44,346.75 329.19,347.03 329.95,347.29 330.70,347.55 331.46,347.80 332.23,348.05 332.99,348.29 333.76,348.53 334.52,348.75 335.29,348.98 336.07,349.19 336.84,349.40 337.61,349.60 338.39,349.80 339.17,349.98 339.95,350.17 340.73,350.34 341.51,350.51 342.30,350.67 343.09,350.82 343.87,350.97 344.66,351.11 345.45,351.25 346.24,351.37 347.03,351.49 347.83,351.60 348.62,351.71 349.42,351.81 350.21,351.90 351.01,351.99 351.81,352.06 352.60,352.13 353.40,352.20 354.20,352.25 355.00,352.30 L475,352.3 345,352" stroke="#ff00ff" stroke-dasharray="3.3 9.8" stroke-dashoffset="-4.3" stroke-linecap="round" stroke-width="2.9"/>
<path d="M318.00,352.31 317.25,352.01 316.51,351.72 315.76,351.42 315.02,351.11 314.28,350.81 313.54,350.49 312.81,350.18 312.07,349.86 311.34,349.53 310.61,349.20 309.88,348.87 309.15,348.53 308.43,348.19 307.70,347.84 306.98,347.50 306.26,347.14 305.54,346.78 304.83,346.42 304.11,346.06 303.40,345.69 302.69,345.32 301.98,344.94 301.28,344.56 300.58,344.17 299.87,343.78 299.18,343.39 298.48,343.00 297.78,342.60 297.09,342.19 296.40,341.78 295.71,341.37 295.03,340.96 294.34,340.54 293.66,340.12 292.98,339.69 292.30,339.26 291.63,338.83 290.96,338.39 290.29,337.95 289.62,337.51 288.95,337.06 288.29,336.61 287.63,336.16 286.97,335.70 286.31,335.24 285.66,334.78 285.01,334.31 284.36,333.84 283.71,333.37 283.06,332.89 282.42,332.41 281.78,331.93 281.14,331.45 280.51,330.96 279.88,330.47 279.24,329.97 278.62,329.47 277.99,328.97 277.37,328.47 276.74,327.96 276.12,327.45 275.51,326.94 274.89,326.43 274.28,325.91 273.67,325.39 273.06,324.87 272.46,324.34 271.85,323.81 271.25,323.28 270.66,322.75 270.06,322.21 269.47,321.67 268.87,321.13 268.28,320.59 267.70,320.04 267.11,319.49 266.53,318.94 265.95,318.39 265.37,317.84 264.79,317.28 264.22,316.72 263.65,316.16 263.08,315.59 262.51,315.03 261.95,314.46 261.38,313.89 260.82,313.31 260.26,312.74 259.70,312.16 259.15,311.58 258.60,311.00 258.05,310.42 257.50,309.84 256.95,309.25 256.41,308.66 255.86,308.07 255.32,307.48 254.78,306.89 254.25,306.29 253.71,305.69 253.18,305.10 252.65,304.49 252.12,303.89 251.59,303.29 251.06,302.68 250.54,302.08 250.02,301.47 249.50,300.86 248.98,300.25 248.46,299.63 247.95,299.02 247.44,298.40 246.92,297.78 246.41,297.17 245.91,296.55 245.40,295.92 244.90,295.30 244.39,294.68 243.89,294.05 243.39,293.42 242.89,292.80 242.40,292.17 241.90,291.54 241.41,290.90 240.92,290.27 240.43,289.64 239.94,289.00 239.45,288.37 238.96,287.73 238.48,287.09 237.99,286.45 237.51,285.81 237.03,285.17 236.55,284.52 236.07,283.88 235.60,283.24 235.12,282.59 234.65,281.94 234.18,281.30 233.70,280.65 233.23,280.00 232.76,279.35 232.30,278.70 231.83,278.05 231.36,277.39 230.90,276.74 230.44,276.08 229.97,275.43 229.51,274.77 229.05,274.12 228.59,273.46 228.14,272.80 227.68,272.14 227.22,271.48 226.77,270.82 226.31,270.16 225.86,269.50 225.41,268.84 224.96,268.18 224.51,267.51 224.06,266.85 223.61,266.18 223.16,265.52 222.71,264.85 222.27,264.19 221.82,263.52 221.38,262.85 220.93,262.19 220.49,261.52 220.05,260.85 219.61,260.18 219.16,259.51 218.72,258.84 218.28,258.17 217.84,257.50 217.41,256.83 216.97,256.16 216.53,255.49 216.09,254.81 215.66,254.14 215.22,253.47 214.78,252.80 214.35,252.12 213.91,251.45 213.48,250.78 213.05,250.10 212.61,249.43 212.18,248.75 211.75,248.08 211.31,247.40 210.88,246.73 210.45,246.05 210.02,245.38 209.59,244.70 209.16,244.02 208.73,243.35 208.30,242.67 207.87,241.99 207.44,241.32 207.00,240.64 206.57,239.97 206.15,239.29 205.72,238.61 205.29,237.93 204.86,237.26 204.43,236.58 204.00,235.90 203.57,235.23 203.14,234.55 202.71,233.87 202.28,233.20 201.85,232.52 201.42,231.84 200.99,231.17 200.56,230.49 200.13,229.81 199.70,229.14 199.27,228.46 198.84,227.78 198.41,227.11 197.97,226.43 197.54,225.76 197.11,225.08 196.68,224.41 196.25,223.73 195.81,223.06 195.38,222.38 194.95,221.71 194.51,221.03 194.08,220.36 193.65,219.68 193.21,219.01 192.78,218.34 192.34,217.66 191.91,216.99 191.47,216.31 191.04,215.64 190.61,214.97 190.17,214.29 189.74,213.62 189.30,212.94 188.87,212.27 188.44,211.59 188.01,210.92 187.57,210.24 187.14,209.57 186.71,208.89 186.28,208.22 185.85,207.54 185.42,206.86 184.99,206.19 184.56,205.51 184.13,204.83 183.70,204.15 183.28,203.47 182.85,202.79 182.43,202.11 182.00,201.43 181.58,200.75 181.16,200.07 180.73,199.39 180.31,198.71 179.89,198.02 179.48,197.34 179.06,196.66 178.64,195.97 178.23,195.28 177.81,194.60 177.40,193.91 176.99,193.22 176.58,192.53 176.17,191.84 175.77,191.15 175.36,190.46 174.96,189.77 174.55,189.07 174.15,188.38 173.75,187.68 173.36,186.99 172.96,186.29 172.57,185.59 172.18,184.89 171.79,184.19 171.40,183.49 171.01,182.79 170.63,182.09 170.24,181.38 169.86,180.67 169.49,179.97 169.11,179.26 168.74,178.55 168.36,177.84 167.99,177.13 167.63,176.42 167.26,175.70 166.90,174.99 166.54,174.27 166.18,173.55 165.83,172.83 165.48,172.11 165.13,171.39 164.78,170.67 164.43,169.95 164.09,169.22 163.75,168.49 163.42,167.77 163.08,167.04 162.75,166.31 162.43,165.57 162.10,164.84 161.78,164.11 161.46,163.37 161.15,162.63 160.83,161.89 160.53,161.16 160.22,160.41 159.92,159.67 159.62,158.93 159.32,158.18 159.03,157.44 158.74,156.69 158.45,155.94 158.17,155.19 157.89,154.44 157.62,153.69 157.34,152.93 157.07,152.18 156.81,151.42 156.55,150.66 156.29,149.90 156.04,149.14 155.79,148.38 155.54,147.62 155.30,146.85 155.07,146.08 154.84,145.32 154.61,144.55 154.39,143.78 154.18,143.00 153.97,142.23 153.77,141.45 153.57,140.68 153.38,139.90 153.20,139.12 153.02,138.33 152.85,137.55 152.69,136.76 152.54,135.98 152.39,135.19 152.25,134.40 152.12,133.61 152.00,132.82 151.89,132.02 151.78,131.23 151.68,130.43 151.60,129.64 151.52,128.84 151.45,128.04 151.39,127.24 151.34,126.44 151.30,125.64 151.26,124.84 151.24,124.04 151.23,123.23 151.23,122.43 151.24,121.63 151.26,120.83 151.29,120.03 151.33,119.23 151.39,118.43 151.48,117.63 151.58,116.84 151.72,116.05 151.90,115.26 152.12,114.49 152.41,113.75 152.79,113.04 153.28,112.41 153.93,111.94 154.69,111.71 155.49,111.72 156.27,111.90 157.02,112.18 157.74,112.53 158.43,112.94 159.09,113.39 159.72,113.88 160.33,114.41 160.91,114.96 161.48,115.53 162.02,116.12 162.54,116.73 163.05,117.35 163.55,117.98 164.03,118.61 164.51,119.26 164.98,119.91 165.44,120.56 165.90,121.22 166.36,121.88 166.81,122.54 167.27,123.20 167.73,123.86 168.19,124.51 168.65,125.17 169.12,125.82 169.59,126.46 170.07,127.11 170.55,127.75 171.04,128.39 171.53,129.02 172.03,129.65 172.53,130.28 173.03,130.90 173.54,131.52 174.05,132.14 174.57,132.75 175.09,133.36 175.61,133.97 176.14,134.57 176.67,135.17 177.21,135.77 177.75,136.36 178.29,136.95 178.83,137.54 179.38,138.12 179.93,138.71 180.49,139.29 181.04,139.86 181.60,140.44 182.17,141.01 182.73,141.58 183.30,142.14 183.87,142.71 184.44,143.27 185.01,143.83 185.59,144.39 186.17,144.94 186.75,145.50 187.33,146.05 187.91,146.60 188.50,147.15 189.08,147.69 189.67,148.24 190.26,148.78 190.85,149.33 191.44,149.87 192.03,150.41 192.62,150.95 193.22,151.49 193.81,152.03 194.40,152.57 195.00,153.11 195.59,153.64 196.19,154.18 196.78,154.72 197.38,155.26 197.97,155.80 198.56,156.34 199.16,156.87 199.75,157.41 200.34,157.95 200.94,158.49 201.53,159.03 202.12,159.57 202.71,160.12 203.30,160.66 203.89,161.20 204.48,161.74 205.07,162.29 205.66,162.83 206.25,163.38 206.84,163.92 207.42,164.47 208.01,165.01 208.60,165.56 209.18,166.11 209.77,166.66 210.35,167.21 210.93,167.76 211.51,168.31 212.10,168.86 212.68,169.42 213.25,169.97 213.83,170.53 214.41,171.08 214.99,171.64 215.56,172.20 216.14,172.76 216.71,173.32 217.28,173.88 217.86,174.44 218.43,175.00 219.00,175.57 219.56,176.13 220.13,176.70 220.70,177.27 221.26,177.84 221.82,178.41 222.39,178.98 222.95,179.55 223.51,180.13 224.06,180.70 224.62,181.28 225.17,181.86 225.73,182.44 226.28,183.02 226.83,183.60 227.38,184.19 227.93,184.77 228.47,185.36 229.01,185.95 229.56,186.54 230.10,187.13 230.64,187.73 231.17,188.32 231.71,188.92 232.24,189.52 232.77,190.12 233.30,190.72 233.83,191.33 234.35,191.93 234.88,192.54 235.40,193.15 235.92,193.76 236.43,194.37 236.95,194.99 237.46,195.60 237.97,196.22 238.48,196.84 238.98,197.47 239.49,198.09 239.99,198.72 240.49,199.34 240.98,199.97 241.48,200.61 241.97,201.24 242.45,201.88 242.94,202.51 243.42,203.16 243.90,203.80 244.38,204.44 244.85,205.09 245.32,205.74 245.79,206.39 246.26,207.04 246.72,207.70 247.18,208.35 247.63,209.01 248.09,209.67 248.54,210.34 248.98,211.00 249.43,211.67 249.87,212.34 250.30,213.02 250.74,213.69 251.16,214.37 251.59,215.05 252.01,215.73 252.43,216.41 252.85,217.10 253.26,217.79 253.66,218.48 254.07,219.17 254.47,219.86 254.86,220.56 255.25,221.26 255.64,221.96 256.03,222.67 256.41,223.37 256.78,224.08 257.15,224.79 257.52,225.51 257.88,226.22 258.24,226.94 258.59,227.66 258.94,228.38 259.28,229.10 259.63,229.83 259.96,230.56 260.29,231.29 260.62,232.02 260.94,232.75 261.26,233.49 261.57,234.23 261.88,234.97 262.19,235.71 262.49,236.45 262.78,237.20 263.08,237.95 263.36,238.69 263.65,239.44 263.92,240.20 264.20,240.95 264.47,241.70 264.73,242.46 264.99,243.22 265.25,243.98 265.50,244.74 265.75,245.50 265.99,246.27 266.23,247.03 266.47,247.80 266.70,248.57 266.92,249.34 267.14,250.11 267.36,250.88 267.57,251.65 267.78,252.42 267.99,253.20 268.19,253.98 268.38,254.75 268.57,255.53 268.76,256.31 268.94,257.09 269.12,257.87 269.29,258.66 269.46,259.44 269.63,260.23 269.79,261.01 269.95,261.80 270.10,262.58 270.25,263.37 270.39,264.16 270.53,264.95 270.66,265.74 270.79,266.53 270.92,267.32 271.04,268.12 271.16,268.91 271.27,269.70 271.38,270.50 271.49,271.29 271.59,272.09 271.68,272.88 271.77,273.68 271.86,274.48 271.94,275.28 272.02,276.07 272.10,276.87 272.17,277.67 272.23,278.47 272.30,279.27 272.35,280.07 272.41,280.87 272.45,281.67 272.50,282.47 272.54,283.27 272.58,284.07 272.61,284.87 272.63,285.67 272.66,286.47 272.68,287.28 272.69,288.08 272.70,288.88 272.71,289.68 272.71,290.48 272.70,291.28 272.70,292.09 272.68,292.89 272.67,293.69 272.65,294.49 272.62,295.29 272.60,296.09 272.56,296.89 272.52,297.70 272.48,298.50 272.44,299.30 272.39,300.10 272.33,300.90 272.27,301.70 272.21,302.50 272.14,303.29 272.07,304.09 271.99,304.89 271.91,305.69 271.83,306.49 271.74,307.28 271.64,308.08 271.54,308.87 271.44,309.67 271.33,310.46 271.22,311.26 271.11,312.05 270.99,312.84 270.86,313.64 270.73,314.43 270.60,315.22 270.46,316.01 270.32,316.80 270.17,317.58 270.02,318.37 269.86,319.16 269.70,319.94 269.54,320.73 269.37,321.51 269.20,322.29 269.02,323.08 268.84,323.86 268.65,324.64 268.46,325.42 268.26,326.19 268.06,326.97 267.86,327.74 267.65,328.52 267.43,329.29 267.22,330.06 266.99,330.83 266.77,331.60 266.53,332.37 266.30,333.14 266.06,333.90 265.81,334.66 265.56,335.43 265.31,336.19 265.05,336.94 264.78,337.70 264.52,338.46 264.24,339.21 263.97,339.96 263.68,340.71 263.40,341.46 263.11,342.21 262.81,342.96 262.51,343.70 262.21,344.44 261.90,345.18 261.58,345.92 261.27,346.65 260.94,347.39 260.61,348.12 260.28,348.85 259.95,349.58 259.60,350.30 L256,352.1 249,352.3 479,352.3 318,352.3" stroke="#0000ff" stroke-dasharray="7.4 0.75 2.3 0.75" stroke-width="3"/>
</g>
<g stroke="#000" stroke-width="1.6">
<line x1="74.80" y1="12.60" x2="74.80" y2="353.70"/>
<line x1="74.80" y1="352.90" x2="74.80" y2="360.40"/>
<line x1="113.12" y1="352.90" x2="113.12" y2="357.10"/>
<line x1="151.45" y1="352.90" x2="151.45" y2="360.40"/>
<line x1="189.77" y1="352.90" x2="189.77" y2="357.10"/>
<line x1="228.10" y1="352.90" x2="228.10" y2="360.40"/>
<line x1="266.43" y1="352.90" x2="266.43" y2="357.10"/>
<line x1="304.75" y1="352.90" x2="304.75" y2="360.40"/>
<line x1="343.07" y1="352.90" x2="343.07" y2="357.10"/>
<line x1="381.40" y1="352.90" x2="381.40" y2="360.40"/>
<line x1="419.73" y1="352.90" x2="419.73" y2="357.10"/>
<line x1="458.05" y1="352.90" x2="458.05" y2="360.40"/>
<line x1="496.38" y1="352.90" x2="496.38" y2="357.10"/>
<line x1="534.70" y1="352.90" x2="534.70" y2="360.40"/>
<line x1="74.80" y1="352.90" x2="67.30" y2="352.90"/>
<line x1="74.80" y1="328.65" x2="70.60" y2="328.65"/>
<line x1="74.80" y1="304.40" x2="67.30" y2="304.40"/>
<line x1="74.80" y1="280.15" x2="70.60" y2="280.15"/>
<line x1="74.80" y1="255.90" x2="67.30" y2="255.90"/>
<line x1="74.80" y1="231.65" x2="70.60" y2="231.65"/>
<line x1="74.80" y1="207.40" x2="67.30" y2="207.40"/>
<line x1="74.80" y1="183.15" x2="70.60" y2="183.15"/>
<line x1="74.80" y1="158.90" x2="67.30" y2="158.90"/>
<line x1="74.80" y1="134.65" x2="70.60" y2="134.65"/>
<line x1="74.80" y1="110.40" x2="67.30" y2="110.40"/>
<line x1="74.80" y1="86.15" x2="70.60" y2="86.15"/>
<line x1="74.80" y1="61.90" x2="67.30" y2="61.90"/>
<line x1="74.80" y1="37.65" x2="70.60" y2="37.65"/>
<line x1="74.80" y1="13.40" x2="67.30" y2="13.40"/>
</g>
<line x1="74.80" y1="352.90" x2="535.50" y2="352.90" stroke="#444" stroke-width="1.6"/>
<g font-size="15.3" fill="#000">
<text x="64" y="357.40" text-anchor="end">0.0</text>
<text x="64" y="308.90" text-anchor="end">0.1</text>
<text x="64" y="260.40" text-anchor="end">0.2</text>
<text x="64" y="211.90" text-anchor="end">0.3</text>
<text x="64" y="163.40" text-anchor="end">0.4</text>
<text x="64" y="114.90" text-anchor="end">0.5</text>
<text x="64" y="66.40" text-anchor="end">0.6</text>
<text x="64" y="17.90" text-anchor="end">0.7</text>
<text x="74.80" y="376.3" text-anchor="middle">0</text>
<text x="151.45" y="376.3" text-anchor="middle">10</text>
<text x="228.10" y="376.3" text-anchor="middle">20</text>
<text x="304.75" y="376.3" text-anchor="middle">30</text>
<text x="381.40" y="376.3" text-anchor="middle">40</text>
<text x="458.05" y="376.3" text-anchor="middle">50</text>
<text x="534.70" y="376.3" text-anchor="middle">60</text>
</g>
<g font-size="16" fill="#000">
<text x="275" y="403.8" textLength="60.3" lengthAdjust="spacingAndGlyphs">Vds (V)</text>
<text transform="translate(18.7,221.6) rotate(-90)" textLength="52.3" lengthAdjust="spacingAndGlyphs">Ids (A)</text>
</g>
<g fill="none">
<line x1="201.5" y1="20.6" x2="241.2" y2="20.6" stroke="#000" stroke-width="2.9" stroke-linecap="round"/>
<line x1="201.1" y1="42.5" x2="242" y2="42.5" stroke="#ff00ff" stroke-width="2.8" stroke-dasharray="1.6 11.6" stroke-linecap="round"/>
<line x1="201.1" y1="64.6" x2="241.3" y2="64.6" stroke="#0000ff" stroke-width="3.1" stroke-dasharray="6.6 5.4 0.2 5.3" stroke-linecap="round"/>
</g>
<g font-size="16.4" fill="#000">
<text x="246.5" y="25.9" textLength="109" lengthAdjust="spacingAndGlyphs">Class C-F PA</text>
<text x="246.5" y="47.9" textLength="194.5" lengthAdjust="spacingAndGlyphs">Class C Tuned Load PA</text>
<text x="246.5" y="70" textLength="282.8" lengthAdjust="spacingAndGlyphs">Class C-F without harmonic control</text>
</g>
</svg>
</body></html>
